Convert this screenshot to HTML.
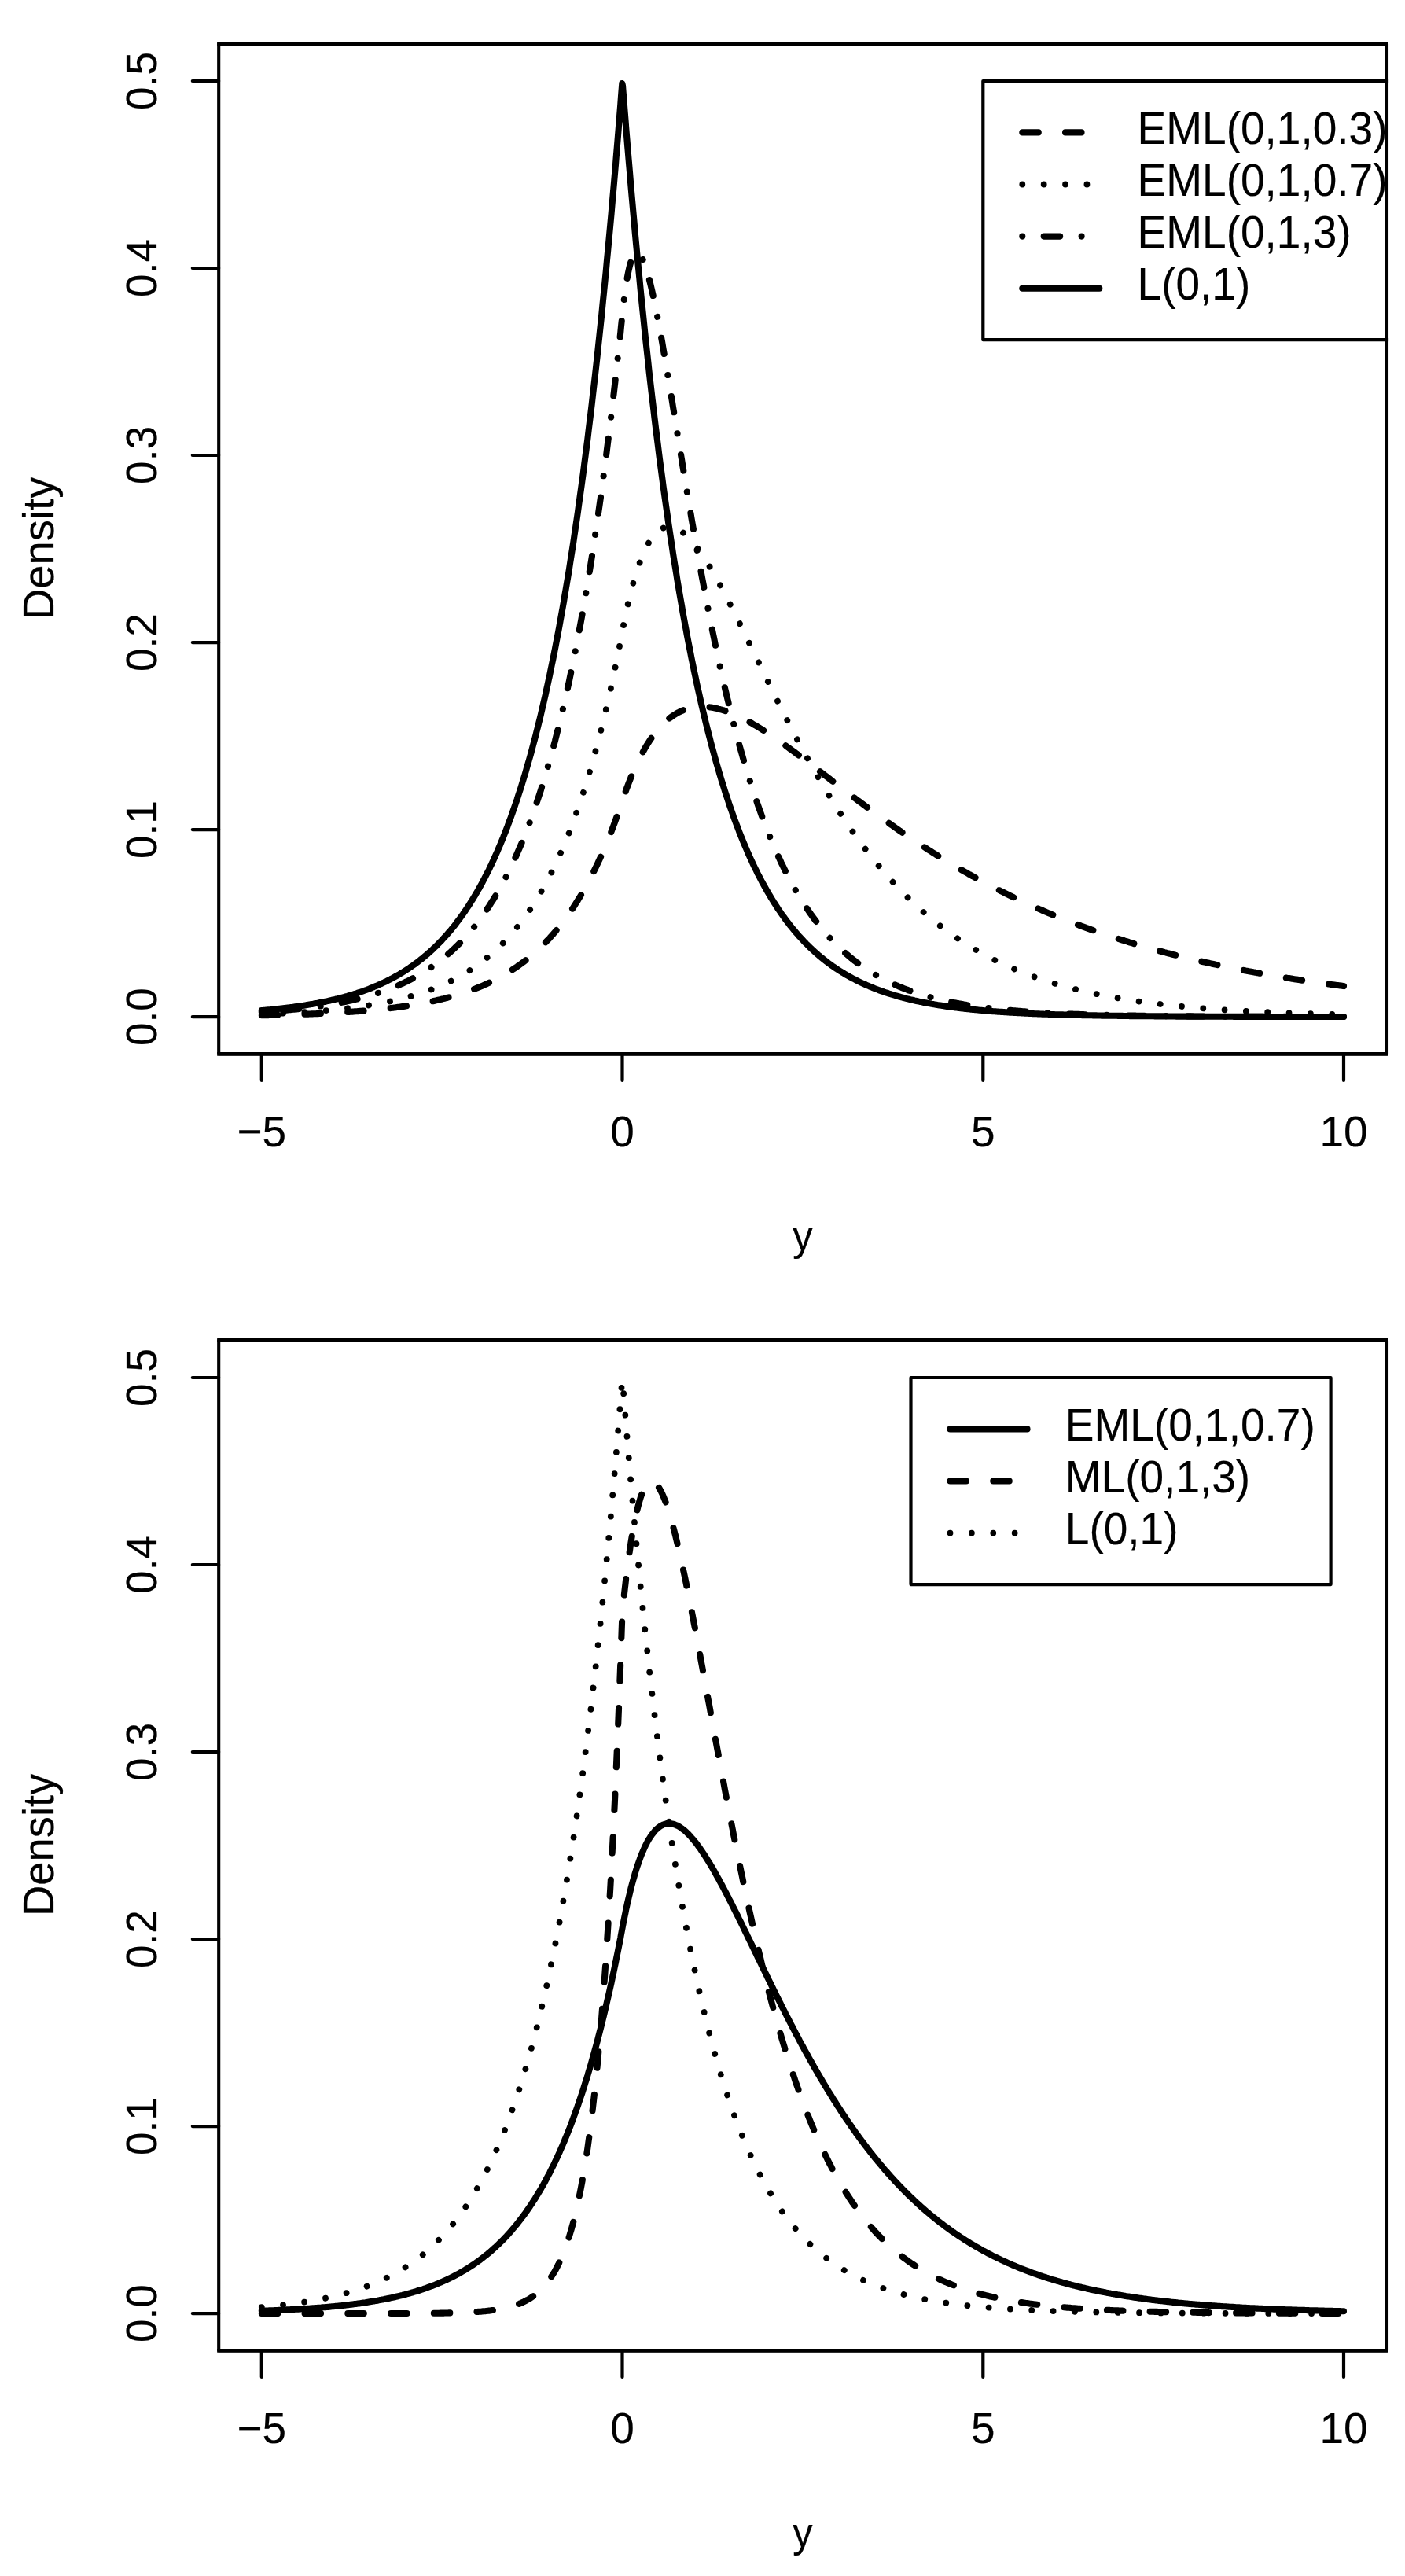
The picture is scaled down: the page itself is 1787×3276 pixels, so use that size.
<!DOCTYPE html>
<html><head><meta charset="utf-8"><title>Density plots</title>
<style>html,body{margin:0;padding:0;background:#fff}svg{display:block}text{stroke:#000;stroke-width:0.2px;font-family:"Liberation Sans",sans-serif;font-size:55px;fill:#000}</style></head><body>
<svg width="1787" height="3276" viewBox="0 0 1787 3276">
<rect width="1787" height="3276" fill="#fff"/>
<defs><clipPath id="c0"><rect x="278.2" y="55.4" width="1487.9" height="1284.8"/></clipPath><clipPath id="c1"><rect x="278.2" y="1704.4" width="1487.9" height="1284.8"/></clipPath></defs>
<g fill="none" stroke="#000" stroke-linecap="round" stroke-linejoin="round">
<g clip-path="url(#c0)">
<path d="M332.8,1291.2 L334.2,1291.2 L335.6,1291.2 L336.9,1291.2 L338.3,1291.1 L339.7,1291.1 L341.1,1291.1 L342.4,1291.0 L343.8,1291.0 L345.2,1291.0 L346.6,1290.9 L347.9,1290.9 L349.3,1290.9 L350.7,1290.9 L352.1,1290.8 L353.5,1290.8 L354.8,1290.7 L356.2,1290.7 L357.6,1290.7 L359.0,1290.6 L360.3,1290.6 L361.7,1290.6 L363.1,1290.5 L364.5,1290.5 L365.8,1290.4 L367.2,1290.4 L368.6,1290.4 L370.0,1290.3 L371.4,1290.3 L372.7,1290.2 L374.1,1290.2 L375.5,1290.2 L376.9,1290.1 L378.2,1290.1 L379.6,1290.0 L381.0,1290.0 L382.4,1289.9 L383.7,1289.9 L385.1,1289.8 L386.5,1289.8 L387.9,1289.7 L389.3,1289.7 L390.6,1289.6 L392.0,1289.6 L393.4,1289.5 L394.8,1289.5 L396.1,1289.4 L397.5,1289.4 L398.9,1289.3 L400.3,1289.2 L401.6,1289.2 L403.0,1289.1 L404.4,1289.1 L405.8,1289.0 L407.2,1288.9 L408.5,1288.9 L409.9,1288.8 L411.3,1288.7 L412.7,1288.7 L414.0,1288.6 L415.4,1288.5 L416.8,1288.5 L418.2,1288.4 L419.5,1288.3 L420.9,1288.3 L422.3,1288.2 L423.7,1288.1 L425.1,1288.0 L426.4,1288.0 L427.8,1287.9 L429.2,1287.8 L430.6,1287.7 L431.9,1287.6 L433.3,1287.6 L434.7,1287.5 L436.1,1287.4 L437.4,1287.3 L438.8,1287.2 L440.2,1287.1 L441.6,1287.0 L443.0,1287.0 L444.3,1286.9 L445.7,1286.8 L447.1,1286.7 L448.5,1286.6 L449.8,1286.5 L451.2,1286.4 L452.6,1286.3 L454.0,1286.2 L455.3,1286.1 L456.7,1286.0 L458.1,1285.8 L459.5,1285.7 L460.9,1285.6 L462.2,1285.5 L463.6,1285.4 L465.0,1285.3 L466.4,1285.2 L467.7,1285.0 L469.1,1284.9 L470.5,1284.8 L471.9,1284.7 L473.2,1284.5 L474.6,1284.4 L476.0,1284.3 L477.4,1284.2 L478.8,1284.0 L480.1,1283.9 L481.5,1283.7 L482.9,1283.6 L484.3,1283.5 L485.6,1283.3 L487.0,1283.2 L488.4,1283.0 L489.8,1282.9 L491.1,1282.7 L492.5,1282.5 L493.9,1282.4 L495.3,1282.2 L496.7,1282.1 L498.0,1281.9 L499.4,1281.7 L500.8,1281.6 L502.2,1281.4 L503.5,1281.2 L504.9,1281.0 L506.3,1280.8 L507.7,1280.7 L509.0,1280.5 L510.4,1280.3 L511.8,1280.1 L513.2,1279.9 L514.6,1279.7 L515.9,1279.5 L517.3,1279.3 L518.7,1279.1 L520.1,1278.9 L521.4,1278.6 L522.8,1278.4 L524.2,1278.2 L525.6,1278.0 L526.9,1277.7 L528.3,1277.5 L529.7,1277.3 L531.1,1277.0 L532.5,1276.8 L533.8,1276.5 L535.2,1276.3 L536.6,1276.0 L538.0,1275.8 L539.3,1275.5 L540.7,1275.3 L542.1,1275.0 L543.5,1274.7 L544.8,1274.4 L546.2,1274.2 L547.6,1273.9 L549.0,1273.6 L550.4,1273.3 L551.7,1273.0 L553.1,1272.7 L554.5,1272.4 L555.9,1272.1 L557.2,1271.7 L558.6,1271.4 L560.0,1271.1 L561.4,1270.8 L562.7,1270.4 L564.1,1270.1 L565.5,1269.7 L566.9,1269.4 L568.3,1269.0 L569.6,1268.6 L571.0,1268.3 L572.4,1267.9 L573.8,1267.5 L575.1,1267.1 L576.5,1266.7 L577.9,1266.3 L579.3,1265.9 L580.6,1265.5 L582.0,1265.1 L583.4,1264.7 L584.8,1264.3 L586.2,1263.8 L587.5,1263.4 L588.9,1262.9 L590.3,1262.5 L591.7,1262.0 L593.0,1261.5 L594.4,1261.1 L595.8,1260.6 L597.2,1260.1 L598.5,1259.6 L599.9,1259.1 L601.3,1258.6 L602.7,1258.0 L604.1,1257.5 L605.4,1257.0 L606.8,1256.4 L608.2,1255.9 L609.6,1255.3 L610.9,1254.7 L612.3,1254.2 L613.7,1253.6 L615.1,1253.0 L616.4,1252.4 L617.8,1251.8 L619.2,1251.1 L620.6,1250.5 L622.0,1249.8 L623.3,1249.2 L624.7,1248.5 L626.1,1247.9 L627.5,1247.2 L628.8,1246.5 L630.2,1245.8 L631.6,1245.1 L633.0,1244.3 L634.3,1243.6 L635.7,1242.8 L637.1,1242.1 L638.5,1241.3 L639.9,1240.5 L641.2,1239.7 L642.6,1238.9 L644.0,1238.1 L645.4,1237.3 L646.7,1236.4 L648.1,1235.6 L649.5,1234.7 L650.9,1233.8 L652.2,1232.9 L653.6,1232.0 L655.0,1231.1 L656.4,1230.2 L657.8,1229.2 L659.1,1228.2 L660.5,1227.3 L661.9,1226.3 L663.3,1225.3 L664.6,1224.2 L666.0,1223.2 L667.4,1222.1 L668.8,1221.1 L670.1,1220.0 L671.5,1218.9 L672.9,1217.7 L674.3,1216.6 L675.7,1215.4 L677.0,1214.3 L678.4,1213.1 L679.8,1211.9 L681.2,1210.6 L682.5,1209.4 L683.9,1208.1 L685.3,1206.8 L686.7,1205.5 L688.1,1204.2 L689.4,1202.9 L690.8,1201.5 L692.2,1200.1 L693.6,1198.7 L694.9,1197.3 L696.3,1195.8 L697.7,1194.4 L699.1,1192.9 L700.4,1191.4 L701.8,1189.8 L703.2,1188.3 L704.6,1186.7 L706.0,1185.1 L707.3,1183.4 L708.7,1181.8 L710.1,1180.1 L711.5,1178.4 L712.8,1176.6 L714.2,1174.9 L715.6,1173.1 L717.0,1171.3 L718.3,1169.4 L719.7,1167.6 L721.1,1165.7 L722.5,1163.7 L723.9,1161.8 L725.2,1159.8 L726.6,1157.8 L728.0,1155.7 L729.4,1153.7 L730.7,1151.6 L732.1,1149.4 L733.5,1147.2 L734.9,1145.0 L736.2,1142.8 L737.6,1140.5 L739.0,1138.2 L740.4,1135.9 L741.8,1133.5 L743.1,1131.1 L744.5,1128.6 L745.9,1126.1 L747.3,1123.6 L748.6,1121.1 L750.0,1118.5 L751.4,1115.8 L752.8,1113.1 L754.1,1110.4 L755.5,1107.7 L756.9,1104.9 L758.3,1102.0 L759.7,1099.1 L761.0,1096.2 L762.4,1093.2 L763.8,1090.2 L765.2,1087.1 L766.5,1084.0 L767.9,1080.8 L769.3,1077.6 L770.7,1074.4 L772.0,1071.1 L773.4,1067.7 L774.8,1064.3 L776.2,1060.8 L777.6,1057.3 L778.9,1053.8 L780.3,1050.1 L781.7,1046.5 L783.1,1042.7 L783.7,1040.9 L784.4,1039.0 L785.1,1037.0 L785.8,1035.1 L786.5,1033.2 L787.2,1031.2 L787.9,1029.2 L788.6,1027.2 L789.3,1025.2 L789.9,1023.2 L790.6,1021.2 L791.3,1019.1 L792.0,1017.1 L792.7,1015.1 L793.4,1013.1 L794.1,1011.1 L794.8,1009.1 L795.5,1007.2 L796.1,1005.3 L796.8,1003.4 L797.5,1001.5 L798.2,999.7 L798.9,997.8 L799.6,996.0 L800.3,994.3 L801.0,992.5 L802.3,989.1 L803.7,985.7 L805.1,982.5 L806.5,979.3 L807.8,976.2 L809.2,973.2 L810.6,970.2 L812.0,967.4 L813.4,964.6 L814.7,961.9 L816.1,959.2 L817.5,956.7 L818.9,954.2 L820.2,951.8 L821.6,949.4 L823.0,947.1 L824.4,944.9 L825.7,942.8 L827.1,940.7 L828.5,938.7 L829.9,936.7 L831.3,934.8 L832.6,933.0 L834.0,931.2 L835.4,929.5 L836.8,927.9 L838.1,926.3 L839.5,924.7 L840.9,923.2 L842.3,921.8 L843.6,920.4 L845.0,919.1 L846.4,917.8 L847.8,916.5 L849.2,915.4 L850.5,914.2 L851.9,913.1 L853.3,912.1 L854.7,911.1 L856.0,910.2 L857.4,909.2 L858.8,908.4 L860.2,907.6 L861.5,906.8 L862.9,906.0 L864.3,905.3 L865.7,904.7 L867.1,904.1 L868.4,903.5 L869.8,902.9 L871.2,902.4 L872.6,902.0 L873.9,901.5 L875.3,901.1 L876.7,900.7 L878.1,900.4 L879.4,900.1 L880.8,899.8 L882.2,899.6 L883.6,899.4 L885.0,899.2 L886.3,899.1 L887.7,898.9 L889.1,898.9 L890.5,898.8 L891.8,898.8 L893.2,898.8 L894.6,898.8 L896.0,898.8 L897.3,898.9 L898.7,899.0 L900.1,899.1 L901.5,899.2 L902.9,899.4 L904.2,899.6 L905.6,899.8 L907.0,900.1 L908.4,900.3 L909.7,900.6 L911.1,900.9 L912.5,901.2 L913.9,901.6 L915.2,901.9 L916.6,902.3 L918.0,902.7 L919.4,903.1 L920.8,903.5 L922.1,904.0 L923.5,904.5 L924.9,905.0 L926.3,905.5 L927.6,906.0 L929.0,906.5 L930.4,907.1 L931.8,907.6 L933.1,908.2 L934.5,908.8 L935.9,909.4 L937.3,910.0 L938.7,910.7 L940.0,911.3 L941.4,912.0 L942.8,912.7 L944.2,913.3 L945.5,914.0 L946.9,914.8 L948.3,915.5 L949.7,916.2 L951.0,917.0 L952.4,917.7 L953.8,918.5 L955.2,919.3 L956.6,920.1 L957.9,920.9 L959.3,921.7 L960.7,922.5 L962.1,923.3 L963.4,924.1 L964.8,925.0 L966.2,925.8 L967.6,926.7 L968.9,927.6 L970.3,928.4 L971.7,929.3 L973.1,930.2 L974.5,931.1 L975.8,932.0 L977.2,932.9 L978.6,933.8 L980.0,934.7 L981.3,935.7 L982.7,936.6 L984.1,937.6 L985.5,938.5 L986.8,939.5 L988.2,940.4 L989.6,941.4 L991.0,942.3 L992.4,943.3 L993.7,944.3 L995.1,945.3 L996.5,946.3 L997.9,947.2 L999.2,948.2 L1000.6,949.2 L1002.0,950.2 L1003.4,951.2 L1004.7,952.2 L1006.1,953.3 L1007.5,954.3 L1008.9,955.3 L1010.3,956.3 L1011.6,957.3 L1013.0,958.4 L1014.4,959.4 L1015.8,960.4 L1017.1,961.5 L1018.5,962.5 L1019.9,963.5 L1021.3,964.6 L1022.6,965.6 L1024.0,966.7 L1025.4,967.7 L1026.8,968.7 L1028.2,969.8 L1029.5,970.8 L1030.9,971.9 L1032.3,972.9 L1033.7,974.0 L1035.0,975.1 L1036.4,976.1 L1037.8,977.2 L1039.2,978.2 L1040.5,979.3 L1041.9,980.3 L1043.3,981.4 L1044.7,982.5 L1046.1,983.5 L1047.4,984.6 L1048.8,985.6 L1050.2,986.7 L1051.6,987.8 L1052.9,988.8 L1054.3,989.9 L1055.7,990.9 L1057.1,992.0 L1058.4,993.1 L1059.8,994.1 L1061.2,995.2 L1062.6,996.2 L1064.0,997.3 L1065.3,998.3 L1066.7,999.4 L1068.1,1000.5 L1069.5,1001.5 L1070.8,1002.6 L1072.2,1003.6 L1073.6,1004.7 L1075.0,1005.7 L1076.3,1006.8 L1077.7,1007.8 L1079.1,1008.9 L1080.5,1009.9 L1081.9,1010.9 L1083.2,1012.0 L1084.6,1013.0 L1086.0,1014.1 L1087.4,1015.1 L1088.7,1016.1 L1090.1,1017.2 L1091.5,1018.2 L1092.9,1019.3 L1094.2,1020.3 L1095.6,1021.3 L1097.0,1022.3 L1098.4,1023.4 L1099.8,1024.4 L1101.1,1025.4 L1102.5,1026.4 L1103.9,1027.5 L1105.3,1028.5 L1106.6,1029.5 L1108.0,1030.5 L1109.4,1031.5 L1110.8,1032.5 L1112.1,1033.5 L1113.5,1034.5 L1114.9,1035.5 L1116.3,1036.5 L1117.7,1037.5 L1119.0,1038.5 L1120.4,1039.5 L1121.8,1040.5 L1123.2,1041.5 L1124.5,1042.5 L1125.9,1043.5 L1127.3,1044.5 L1128.7,1045.4 L1130.0,1046.4 L1131.4,1047.4 L1132.8,1048.4 L1134.2,1049.3 L1135.6,1050.3 L1136.9,1051.3 L1138.3,1052.2 L1139.7,1053.2 L1141.1,1054.2 L1142.4,1055.1 L1143.8,1056.1 L1145.2,1057.0 L1146.6,1058.0 L1147.9,1058.9 L1149.3,1059.9 L1150.7,1060.8 L1152.1,1061.7 L1153.5,1062.7 L1154.8,1063.6 L1156.2,1064.5 L1157.6,1065.5 L1159.0,1066.4 L1160.3,1067.3 L1161.7,1068.2 L1163.1,1069.1 L1164.5,1070.0 L1165.8,1071.0 L1167.2,1071.9 L1168.6,1072.8 L1170.0,1073.7 L1171.4,1074.6 L1172.7,1075.5 L1174.1,1076.4 L1175.5,1077.3 L1176.9,1078.1 L1178.2,1079.0 L1179.6,1079.9 L1181.0,1080.8 L1182.4,1081.7 L1183.7,1082.5 L1185.1,1083.4 L1186.5,1084.3 L1187.9,1085.2 L1189.3,1086.0 L1190.6,1086.9 L1192.0,1087.7 L1193.4,1088.6 L1194.8,1089.4 L1196.1,1090.3 L1197.5,1091.1 L1198.9,1092.0 L1200.3,1092.8 L1201.6,1093.7 L1203.0,1094.5 L1204.4,1095.3 L1205.8,1096.2 L1207.2,1097.0 L1208.5,1097.8 L1209.9,1098.6 L1211.3,1099.4 L1212.7,1100.3 L1214.0,1101.1 L1215.4,1101.9 L1216.8,1102.7 L1218.2,1103.5 L1219.5,1104.3 L1220.9,1105.1 L1222.3,1105.9 L1223.7,1106.7 L1225.1,1107.5 L1226.4,1108.3 L1227.8,1109.0 L1229.2,1109.8 L1230.6,1110.6 L1231.9,1111.4 L1233.3,1112.2 L1234.7,1112.9 L1236.1,1113.7 L1237.4,1114.5 L1238.8,1115.2 L1240.2,1116.0 L1241.6,1116.7 L1243.0,1117.5 L1244.3,1118.2 L1245.7,1119.0 L1247.1,1119.7 L1248.5,1120.5 L1249.8,1121.2 L1251.2,1121.9 L1252.6,1122.7 L1254.0,1123.4 L1255.3,1124.1 L1256.7,1124.9 L1258.1,1125.6 L1259.5,1126.3 L1260.9,1127.0 L1262.2,1127.7 L1263.6,1128.4 L1265.0,1129.2 L1266.4,1129.9 L1267.7,1130.6 L1269.1,1131.3 L1270.5,1132.0 L1271.9,1132.7 L1273.2,1133.3 L1274.6,1134.0 L1276.0,1134.7 L1277.4,1135.4 L1278.8,1136.1 L1280.1,1136.8 L1281.5,1137.4 L1282.9,1138.1 L1284.3,1138.8 L1285.6,1139.5 L1287.0,1140.1 L1288.4,1140.8 L1289.8,1141.4 L1291.1,1142.1 L1292.5,1142.8 L1293.9,1143.4 L1295.3,1144.1 L1296.7,1144.7 L1298.0,1145.4 L1299.4,1146.0 L1300.8,1146.6 L1302.2,1147.3 L1303.5,1147.9 L1304.9,1148.5 L1306.3,1149.2 L1307.7,1149.8 L1309.0,1150.4 L1310.4,1151.0 L1311.8,1151.7 L1313.2,1152.3 L1314.6,1152.9 L1315.9,1153.5 L1317.3,1154.1 L1318.7,1154.7 L1320.1,1155.3 L1321.4,1155.9 L1322.8,1156.5 L1324.2,1157.1 L1325.6,1157.7 L1326.9,1158.3 L1328.3,1158.9 L1329.7,1159.5 L1331.1,1160.1 L1332.5,1160.7 L1333.8,1161.2 L1335.2,1161.8 L1336.6,1162.4 L1338.0,1163.0 L1339.3,1163.5 L1340.7,1164.1 L1342.1,1164.7 L1343.5,1165.2 L1344.8,1165.8 L1346.2,1166.4 L1347.6,1166.9 L1349.0,1167.5 L1350.4,1168.0 L1351.7,1168.6 L1353.1,1169.1 L1354.5,1169.7 L1355.9,1170.2 L1357.2,1170.8 L1358.6,1171.3 L1360.0,1171.8 L1361.4,1172.4 L1362.7,1172.9 L1364.1,1173.4 L1365.5,1173.9 L1366.9,1174.5 L1368.3,1175.0 L1369.6,1175.5 L1371.0,1176.0 L1372.4,1176.6 L1373.8,1177.1 L1375.1,1177.6 L1376.5,1178.1 L1377.9,1178.6 L1379.3,1179.1 L1380.7,1179.6 L1382.0,1180.1 L1383.4,1180.6 L1384.8,1181.1 L1386.2,1181.6 L1387.5,1182.1 L1388.9,1182.6 L1390.3,1183.1 L1391.7,1183.6 L1393.0,1184.0 L1394.4,1184.5 L1395.8,1185.0 L1397.2,1185.5 L1398.6,1186.0 L1399.9,1186.4 L1401.3,1186.9 L1402.7,1187.4 L1404.1,1187.8 L1405.4,1188.3 L1406.8,1188.8 L1408.2,1189.2 L1409.6,1189.7 L1410.9,1190.2 L1412.3,1190.6 L1413.7,1191.1 L1415.1,1191.5 L1416.5,1192.0 L1417.8,1192.4 L1419.2,1192.9 L1420.6,1193.3 L1422.0,1193.7 L1423.3,1194.2 L1424.7,1194.6 L1426.1,1195.1 L1427.5,1195.5 L1428.8,1195.9 L1430.2,1196.4 L1431.6,1196.8 L1433.0,1197.2 L1434.4,1197.6 L1435.7,1198.1 L1437.1,1198.5 L1438.5,1198.9 L1439.9,1199.3 L1441.2,1199.7 L1442.6,1200.2 L1444.0,1200.6 L1445.4,1201.0 L1446.7,1201.4 L1448.1,1201.8 L1449.5,1202.2 L1450.9,1202.6 L1452.3,1203.0 L1453.6,1203.4 L1455.0,1203.8 L1456.4,1204.2 L1457.8,1204.6 L1459.1,1205.0 L1460.5,1205.4 L1461.9,1205.8 L1463.3,1206.2 L1464.6,1206.6 L1466.0,1206.9 L1467.4,1207.3 L1468.8,1207.7 L1470.2,1208.1 L1471.5,1208.5 L1472.9,1208.8 L1474.3,1209.2 L1475.7,1209.6 L1477.0,1210.0 L1478.4,1210.3 L1479.8,1210.7 L1481.2,1211.1 L1482.5,1211.4 L1483.9,1211.8 L1485.3,1212.2 L1486.7,1212.5 L1488.1,1212.9 L1489.4,1213.2 L1490.8,1213.6 L1492.2,1214.0 L1493.6,1214.3 L1494.9,1214.7 L1496.3,1215.0 L1497.7,1215.4 L1499.1,1215.7 L1500.4,1216.1 L1501.8,1216.4 L1503.2,1216.7 L1504.6,1217.1 L1506.0,1217.4 L1507.3,1217.8 L1508.7,1218.1 L1510.1,1218.4 L1511.5,1218.8 L1512.8,1219.1 L1514.2,1219.4 L1515.6,1219.7 L1517.0,1220.1 L1518.3,1220.4 L1519.7,1220.7 L1521.1,1221.1 L1522.5,1221.4 L1523.9,1221.7 L1525.2,1222.0 L1526.6,1222.3 L1528.0,1222.6 L1529.4,1223.0 L1530.7,1223.3 L1532.1,1223.6 L1533.5,1223.9 L1534.9,1224.2 L1536.2,1224.5 L1537.6,1224.8 L1539.0,1225.1 L1540.4,1225.4 L1541.8,1225.7 L1543.1,1226.0 L1544.5,1226.3 L1545.9,1226.6 L1547.3,1226.9 L1548.6,1227.2 L1550.0,1227.5 L1551.4,1227.8 L1552.8,1228.1 L1554.1,1228.4 L1555.5,1228.7 L1556.9,1229.0 L1558.3,1229.3 L1559.7,1229.5 L1561.0,1229.8 L1562.4,1230.1 L1563.8,1230.4 L1565.2,1230.7 L1566.5,1231.0 L1567.9,1231.2 L1569.3,1231.5 L1570.7,1231.8 L1572.0,1232.1 L1573.4,1232.3 L1574.8,1232.6 L1576.2,1232.9 L1577.6,1233.1 L1578.9,1233.4 L1580.3,1233.7 L1581.7,1233.9 L1583.1,1234.2 L1584.4,1234.5 L1585.8,1234.7 L1587.2,1235.0 L1588.6,1235.3 L1589.9,1235.5 L1591.3,1235.8 L1592.7,1236.0 L1594.1,1236.3 L1595.5,1236.5 L1596.8,1236.8 L1598.2,1237.0 L1599.6,1237.3 L1601.0,1237.5 L1602.3,1237.8 L1603.7,1238.0 L1605.1,1238.3 L1606.5,1238.5 L1607.8,1238.8 L1609.2,1239.0 L1610.6,1239.3 L1612.0,1239.5 L1613.4,1239.7 L1614.7,1240.0 L1616.1,1240.2 L1617.5,1240.5 L1618.9,1240.7 L1620.2,1240.9 L1621.6,1241.2 L1623.0,1241.4 L1624.4,1241.6 L1625.7,1241.9 L1627.1,1242.1 L1628.5,1242.3 L1629.9,1242.5 L1631.3,1242.8 L1632.6,1243.0 L1634.0,1243.2 L1635.4,1243.4 L1636.8,1243.7 L1638.1,1243.9 L1639.5,1244.1 L1640.9,1244.3 L1642.3,1244.5 L1643.6,1244.8 L1645.0,1245.0 L1646.4,1245.2 L1647.8,1245.4 L1649.2,1245.6 L1650.5,1245.8 L1651.9,1246.1 L1653.3,1246.3 L1654.7,1246.5 L1656.0,1246.7 L1657.4,1246.9 L1658.8,1247.1 L1660.2,1247.3 L1661.5,1247.5 L1662.9,1247.7 L1664.3,1247.9 L1665.7,1248.1 L1667.1,1248.3 L1668.4,1248.5 L1669.8,1248.7 L1671.2,1248.9 L1672.6,1249.1 L1673.9,1249.3 L1675.3,1249.5 L1676.7,1249.7 L1678.1,1249.9 L1679.4,1250.1 L1680.8,1250.3 L1682.2,1250.5 L1683.6,1250.7 L1685.0,1250.9 L1686.3,1251.0 L1687.7,1251.2 L1689.1,1251.4 L1690.5,1251.6 L1691.8,1251.8 L1693.2,1252.0 L1694.6,1252.2 L1696.0,1252.4 L1697.3,1252.5 L1698.7,1252.7 L1700.1,1252.9 L1701.5,1253.1 L1702.9,1253.3 L1704.2,1253.4 L1705.6,1253.6 L1707.0,1253.8 L1708.4,1254.0 L1709.0,1254.1" stroke-width="8.1" stroke-dasharray="20.48 34.28"/>
<path d="M332.8,1289.8 L334.2,1289.7 L335.6,1289.7 L336.9,1289.6 L338.3,1289.6 L339.7,1289.5 L341.1,1289.5 L342.4,1289.4 L343.8,1289.4 L345.2,1289.3 L346.6,1289.3 L347.9,1289.2 L349.3,1289.1 L350.7,1289.1 L352.1,1289.0 L353.5,1289.0 L354.8,1288.9 L356.2,1288.8 L357.6,1288.8 L359.0,1288.7 L360.3,1288.6 L361.7,1288.6 L363.1,1288.5 L364.5,1288.4 L365.8,1288.4 L367.2,1288.3 L368.6,1288.2 L370.0,1288.1 L371.4,1288.1 L372.7,1288.0 L374.1,1287.9 L375.5,1287.8 L376.9,1287.8 L378.2,1287.7 L379.6,1287.6 L381.0,1287.5 L382.4,1287.4 L383.7,1287.3 L385.1,1287.3 L386.5,1287.2 L387.9,1287.1 L389.3,1287.0 L390.6,1286.9 L392.0,1286.8 L393.4,1286.7 L394.8,1286.6 L396.1,1286.5 L397.5,1286.4 L398.9,1286.3 L400.3,1286.2 L401.6,1286.1 L403.0,1286.0 L404.4,1285.9 L405.8,1285.8 L407.2,1285.7 L408.5,1285.6 L409.9,1285.4 L411.3,1285.3 L412.7,1285.2 L414.0,1285.1 L415.4,1285.0 L416.8,1284.9 L418.2,1284.7 L419.5,1284.6 L420.9,1284.5 L422.3,1284.3 L423.7,1284.2 L425.1,1284.1 L426.4,1283.9 L427.8,1283.8 L429.2,1283.7 L430.6,1283.5 L431.9,1283.4 L433.3,1283.2 L434.7,1283.1 L436.1,1282.9 L437.4,1282.8 L438.8,1282.6 L440.2,1282.5 L441.6,1282.3 L443.0,1282.1 L444.3,1282.0 L445.7,1281.8 L447.1,1281.6 L448.5,1281.5 L449.8,1281.3 L451.2,1281.1 L452.6,1280.9 L454.0,1280.7 L455.3,1280.5 L456.7,1280.4 L458.1,1280.2 L459.5,1280.0 L460.9,1279.8 L462.2,1279.6 L463.6,1279.4 L465.0,1279.2 L466.4,1278.9 L467.7,1278.7 L469.1,1278.5 L470.5,1278.3 L471.9,1278.1 L473.2,1277.8 L474.6,1277.6 L476.0,1277.4 L477.4,1277.1 L478.8,1276.9 L480.1,1276.7 L481.5,1276.4 L482.9,1276.1 L484.3,1275.9 L485.6,1275.6 L487.0,1275.4 L488.4,1275.1 L489.8,1274.8 L491.1,1274.6 L492.5,1274.3 L493.9,1274.0 L495.3,1273.7 L496.7,1273.4 L498.0,1273.1 L499.4,1272.8 L500.8,1272.5 L502.2,1272.2 L503.5,1271.9 L504.9,1271.5 L506.3,1271.2 L507.7,1270.9 L509.0,1270.6 L510.4,1270.2 L511.8,1269.9 L513.2,1269.5 L514.6,1269.2 L515.9,1268.8 L517.3,1268.4 L518.7,1268.1 L520.1,1267.7 L521.4,1267.3 L522.8,1266.9 L524.2,1266.5 L525.6,1266.1 L526.9,1265.7 L528.3,1265.3 L529.7,1264.9 L531.1,1264.4 L532.5,1264.0 L533.8,1263.6 L535.2,1263.1 L536.6,1262.7 L538.0,1262.2 L539.3,1261.7 L540.7,1261.3 L542.1,1260.8 L543.5,1260.3 L544.8,1259.8 L546.2,1259.3 L547.6,1258.8 L549.0,1258.3 L550.4,1257.7 L551.7,1257.2 L553.1,1256.7 L554.5,1256.1 L555.9,1255.5 L557.2,1255.0 L558.6,1254.4 L560.0,1253.8 L561.4,1253.2 L562.7,1252.6 L564.1,1252.0 L565.5,1251.4 L566.9,1250.8 L568.3,1250.1 L569.6,1249.5 L571.0,1248.8 L572.4,1248.1 L573.8,1247.5 L575.1,1246.8 L576.5,1246.1 L577.9,1245.4 L579.3,1244.6 L580.6,1243.9 L582.0,1243.2 L583.4,1242.4 L584.8,1241.6 L586.2,1240.9 L587.5,1240.1 L588.9,1239.3 L590.3,1238.5 L591.7,1237.6 L593.0,1236.8 L594.4,1235.9 L595.8,1235.1 L597.2,1234.2 L598.5,1233.3 L599.9,1232.4 L601.3,1231.5 L602.7,1230.6 L604.1,1229.6 L605.4,1228.6 L606.8,1227.7 L608.2,1226.7 L609.6,1225.7 L610.9,1224.7 L612.3,1223.6 L613.7,1222.6 L615.1,1221.5 L616.4,1220.4 L617.8,1219.3 L619.2,1218.2 L620.6,1217.1 L622.0,1215.9 L623.3,1214.8 L624.7,1213.6 L626.1,1212.4 L627.5,1211.2 L628.8,1209.9 L630.2,1208.7 L631.6,1207.4 L633.0,1206.1 L634.3,1204.8 L635.7,1203.4 L637.1,1202.1 L638.5,1200.7 L639.9,1199.3 L641.2,1197.9 L642.6,1196.4 L644.0,1195.0 L645.4,1193.5 L646.7,1192.0 L648.1,1190.5 L649.5,1188.9 L650.9,1187.3 L652.2,1185.7 L653.6,1184.1 L655.0,1182.5 L656.4,1180.8 L657.8,1179.1 L659.1,1177.4 L660.5,1175.6 L661.9,1173.8 L663.3,1172.0 L664.6,1170.2 L666.0,1168.4 L667.4,1166.5 L668.8,1164.5 L670.1,1162.6 L671.5,1160.6 L672.9,1158.6 L674.3,1156.6 L675.7,1154.5 L677.0,1152.4 L678.4,1150.3 L679.8,1148.2 L681.2,1146.0 L682.5,1143.7 L683.9,1141.5 L685.3,1139.2 L686.7,1136.9 L688.1,1134.5 L689.4,1132.1 L690.8,1129.7 L692.2,1127.2 L693.6,1124.7 L694.9,1122.1 L696.3,1119.5 L697.7,1116.9 L699.1,1114.3 L700.4,1111.6 L701.8,1108.8 L703.2,1106.0 L704.6,1103.2 L706.0,1100.3 L707.3,1097.4 L708.7,1094.5 L710.1,1091.4 L711.5,1088.4 L712.8,1085.3 L714.2,1082.2 L715.6,1079.0 L717.0,1075.7 L718.3,1072.4 L719.7,1069.1 L721.1,1065.7 L722.5,1062.3 L723.9,1058.8 L725.2,1055.3 L726.6,1051.7 L728.0,1048.0 L729.4,1044.3 L730.7,1040.5 L732.1,1036.7 L733.5,1032.8 L734.9,1028.9 L736.2,1024.9 L737.6,1020.9 L739.0,1016.7 L740.4,1012.6 L741.8,1008.3 L743.1,1004.0 L744.5,999.6 L745.9,995.2 L747.3,990.7 L748.6,986.1 L750.0,981.5 L751.4,976.8 L752.8,972.0 L754.1,967.1 L755.5,962.2 L756.9,957.2 L758.3,952.1 L759.7,947.0 L761.0,941.7 L762.4,936.4 L763.8,931.0 L765.2,925.6 L766.5,920.0 L767.9,914.4 L769.3,908.6 L770.7,902.8 L772.0,896.9 L773.4,890.9 L774.8,884.8 L776.2,878.7 L777.6,872.4 L778.9,866.0 L780.3,859.6 L781.7,853.0 L783.1,846.4 L783.7,843.0 L784.4,839.6 L785.1,836.2 L785.8,832.8 L786.5,829.3 L787.2,825.8 L787.9,822.3 L788.6,818.7 L789.3,815.2 L789.9,811.6 L790.6,807.9 L791.3,804.3 L792.0,800.6 L792.7,797.0 L793.4,793.5 L794.1,790.0 L794.8,786.6 L795.5,783.3 L796.1,780.0 L796.8,776.8 L797.5,773.6 L798.2,770.5 L798.9,767.5 L799.6,764.5 L800.3,761.6 L801.0,758.7 L802.3,753.1 L803.7,747.8 L805.1,742.7 L806.5,737.8 L807.8,733.1 L809.2,728.6 L810.6,724.3 L812.0,720.3 L813.4,716.4 L814.7,712.7 L816.1,709.1 L817.5,705.8 L818.9,702.6 L820.2,699.6 L821.6,696.8 L823.0,694.1 L824.4,691.6 L825.7,689.3 L827.1,687.1 L828.5,685.1 L829.9,683.2 L831.3,681.4 L832.6,679.8 L834.0,678.3 L835.4,677.0 L836.8,675.7 L838.1,674.7 L839.5,673.7 L840.9,672.8 L842.3,672.1 L843.6,671.5 L845.0,671.0 L846.4,670.6 L847.8,670.3 L849.2,670.1 L850.5,670.1 L851.9,670.1 L853.3,670.2 L854.7,670.4 L856.0,670.7 L857.4,671.1 L858.8,671.6 L860.2,672.2 L861.5,672.8 L862.9,673.5 L864.3,674.3 L865.7,675.2 L867.1,676.2 L868.4,677.2 L869.8,678.3 L871.2,679.4 L872.6,680.7 L873.9,682.0 L875.3,683.3 L876.7,684.8 L878.1,686.2 L879.4,687.8 L880.8,689.4 L882.2,691.0 L883.6,692.7 L885.0,694.4 L886.3,696.2 L887.7,698.1 L889.1,700.0 L890.5,701.9 L891.8,703.9 L893.2,705.9 L894.6,708.0 L896.0,710.1 L897.3,712.2 L898.7,714.4 L900.1,716.6 L901.5,718.8 L902.9,721.1 L904.2,723.4 L905.6,725.7 L907.0,728.1 L908.4,730.5 L909.7,732.9 L911.1,735.4 L912.5,737.9 L913.9,740.4 L915.2,742.9 L916.6,745.4 L918.0,748.0 L919.4,750.6 L920.8,753.2 L922.1,755.8 L923.5,758.4 L924.9,761.1 L926.3,763.8 L927.6,766.5 L929.0,769.2 L930.4,771.9 L931.8,774.6 L933.1,777.4 L934.5,780.1 L935.9,782.9 L937.3,785.6 L938.7,788.4 L940.0,791.2 L941.4,794.0 L942.8,796.8 L944.2,799.6 L945.5,802.4 L946.9,805.3 L948.3,808.1 L949.7,810.9 L951.0,813.8 L952.4,816.6 L953.8,819.4 L955.2,822.3 L956.6,825.1 L957.9,828.0 L959.3,830.8 L960.7,833.7 L962.1,836.5 L963.4,839.4 L964.8,842.2 L966.2,845.1 L967.6,847.9 L968.9,850.7 L970.3,853.6 L971.7,856.4 L973.1,859.2 L974.5,862.1 L975.8,864.9 L977.2,867.7 L978.6,870.5 L980.0,873.3 L981.3,876.1 L982.7,878.9 L984.1,881.7 L985.5,884.5 L986.8,887.3 L988.2,890.1 L989.6,892.8 L991.0,895.6 L992.4,898.3 L993.7,901.1 L995.1,903.8 L996.5,906.5 L997.9,909.3 L999.2,912.0 L1000.6,914.7 L1002.0,917.4 L1003.4,920.0 L1004.7,922.7 L1006.1,925.4 L1007.5,928.0 L1008.9,930.7 L1010.3,933.3 L1011.6,935.9 L1013.0,938.5 L1014.4,941.1 L1015.8,943.7 L1017.1,946.3 L1018.5,948.9 L1019.9,951.4 L1021.3,954.0 L1022.6,956.5 L1024.0,959.0 L1025.4,961.5 L1026.8,964.0 L1028.2,966.5 L1029.5,969.0 L1030.9,971.5 L1032.3,973.9 L1033.7,976.4 L1035.0,978.8 L1036.4,981.2 L1037.8,983.6 L1039.2,986.0 L1040.5,988.4 L1041.9,990.7 L1043.3,993.1 L1044.7,995.4 L1046.1,997.8 L1047.4,1000.1 L1048.8,1002.4 L1050.2,1004.7 L1051.6,1007.0 L1052.9,1009.2 L1054.3,1011.5 L1055.7,1013.7 L1057.1,1015.9 L1058.4,1018.1 L1059.8,1020.3 L1061.2,1022.5 L1062.6,1024.7 L1064.0,1026.9 L1065.3,1029.0 L1066.7,1031.2 L1068.1,1033.3 L1069.5,1035.4 L1070.8,1037.5 L1072.2,1039.6 L1073.6,1041.6 L1075.0,1043.7 L1076.3,1045.7 L1077.7,1047.8 L1079.1,1049.8 L1080.5,1051.8 L1081.9,1053.8 L1083.2,1055.8 L1084.6,1057.7 L1086.0,1059.7 L1087.4,1061.6 L1088.7,1063.6 L1090.1,1065.5 L1091.5,1067.4 L1092.9,1069.3 L1094.2,1071.1 L1095.6,1073.0 L1097.0,1074.8 L1098.4,1076.7 L1099.8,1078.5 L1101.1,1080.3 L1102.5,1082.1 L1103.9,1083.9 L1105.3,1085.7 L1106.6,1087.5 L1108.0,1089.2 L1109.4,1090.9 L1110.8,1092.7 L1112.1,1094.4 L1113.5,1096.1 L1114.9,1097.8 L1116.3,1099.5 L1117.7,1101.1 L1119.0,1102.8 L1120.4,1104.4 L1121.8,1106.0 L1123.2,1107.7 L1124.5,1109.3 L1125.9,1110.9 L1127.3,1112.4 L1128.7,1114.0 L1130.0,1115.6 L1131.4,1117.1 L1132.8,1118.7 L1134.2,1120.2 L1135.6,1121.7 L1136.9,1123.2 L1138.3,1124.7 L1139.7,1126.2 L1141.1,1127.6 L1142.4,1129.1 L1143.8,1130.5 L1145.2,1132.0 L1146.6,1133.4 L1147.9,1134.8 L1149.3,1136.2 L1150.7,1137.6 L1152.1,1139.0 L1153.5,1140.3 L1154.8,1141.7 L1156.2,1143.0 L1157.6,1144.4 L1159.0,1145.7 L1160.3,1147.0 L1161.7,1148.3 L1163.1,1149.6 L1164.5,1150.9 L1165.8,1152.2 L1167.2,1153.4 L1168.6,1154.7 L1170.0,1155.9 L1171.4,1157.2 L1172.7,1158.4 L1174.1,1159.6 L1175.5,1160.8 L1176.9,1162.0 L1178.2,1163.2 L1179.6,1164.4 L1181.0,1165.5 L1182.4,1166.7 L1183.7,1167.8 L1185.1,1169.0 L1186.5,1170.1 L1187.9,1171.2 L1189.3,1172.3 L1190.6,1173.4 L1192.0,1174.5 L1193.4,1175.6 L1194.8,1176.7 L1196.1,1177.7 L1197.5,1178.8 L1198.9,1179.8 L1200.3,1180.9 L1201.6,1181.9 L1203.0,1182.9 L1204.4,1183.9 L1205.8,1184.9 L1207.2,1185.9 L1208.5,1186.9 L1209.9,1187.9 L1211.3,1188.9 L1212.7,1189.8 L1214.0,1190.8 L1215.4,1191.7 L1216.8,1192.7 L1218.2,1193.6 L1219.5,1194.5 L1220.9,1195.4 L1222.3,1196.3 L1223.7,1197.2 L1225.1,1198.1 L1226.4,1199.0 L1227.8,1199.9 L1229.2,1200.8 L1230.6,1201.6 L1231.9,1202.5 L1233.3,1203.3 L1234.7,1204.2 L1236.1,1205.0 L1237.4,1205.8 L1238.8,1206.6 L1240.2,1207.4 L1241.6,1208.2 L1243.0,1209.0 L1244.3,1209.8 L1245.7,1210.6 L1247.1,1211.4 L1248.5,1212.1 L1249.8,1212.9 L1251.2,1213.7 L1252.6,1214.4 L1254.0,1215.1 L1255.3,1215.9 L1256.7,1216.6 L1258.1,1217.3 L1259.5,1218.0 L1260.9,1218.8 L1262.2,1219.5 L1263.6,1220.2 L1265.0,1220.8 L1266.4,1221.5 L1267.7,1222.2 L1269.1,1222.9 L1270.5,1223.5 L1271.9,1224.2 L1273.2,1224.9 L1274.6,1225.5 L1276.0,1226.2 L1277.4,1226.8 L1278.8,1227.4 L1280.1,1228.0 L1281.5,1228.7 L1282.9,1229.3 L1284.3,1229.9 L1285.6,1230.5 L1287.0,1231.1 L1288.4,1231.7 L1289.8,1232.3 L1291.1,1232.9 L1292.5,1233.4 L1293.9,1234.0 L1295.3,1234.6 L1296.7,1235.1 L1298.0,1235.7 L1299.4,1236.2 L1300.8,1236.8 L1302.2,1237.3 L1303.5,1237.9 L1304.9,1238.4 L1306.3,1238.9 L1307.7,1239.4 L1309.0,1239.9 L1310.4,1240.5 L1311.8,1241.0 L1313.2,1241.5 L1314.6,1242.0 L1315.9,1242.5 L1317.3,1242.9 L1318.7,1243.4 L1320.1,1243.9 L1321.4,1244.4 L1322.8,1244.9 L1324.2,1245.3 L1325.6,1245.8 L1326.9,1246.2 L1328.3,1246.7 L1329.7,1247.1 L1331.1,1247.6 L1332.5,1248.0 L1333.8,1248.5 L1335.2,1248.9 L1336.6,1249.3 L1338.0,1249.8 L1339.3,1250.2 L1340.7,1250.6 L1342.1,1251.0 L1343.5,1251.4 L1344.8,1251.8 L1346.2,1252.2 L1347.6,1252.6 L1349.0,1253.0 L1350.4,1253.4 L1351.7,1253.8 L1353.1,1254.2 L1354.5,1254.6 L1355.9,1254.9 L1357.2,1255.3 L1358.6,1255.7 L1360.0,1256.0 L1361.4,1256.4 L1362.7,1256.8 L1364.1,1257.1 L1365.5,1257.5 L1366.9,1257.8 L1368.3,1258.2 L1369.6,1258.5 L1371.0,1258.8 L1372.4,1259.2 L1373.8,1259.5 L1375.1,1259.8 L1376.5,1260.2 L1377.9,1260.5 L1379.3,1260.8 L1380.7,1261.1 L1382.0,1261.4 L1383.4,1261.8 L1384.8,1262.1 L1386.2,1262.4 L1387.5,1262.7 L1388.9,1263.0 L1390.3,1263.3 L1391.7,1263.6 L1393.0,1263.8 L1394.4,1264.1 L1395.8,1264.4 L1397.2,1264.7 L1398.6,1265.0 L1399.9,1265.3 L1401.3,1265.5 L1402.7,1265.8 L1404.1,1266.1 L1405.4,1266.3 L1406.8,1266.6 L1408.2,1266.9 L1409.6,1267.1 L1410.9,1267.4 L1412.3,1267.6 L1413.7,1267.9 L1415.1,1268.1 L1416.5,1268.4 L1417.8,1268.6 L1419.2,1268.9 L1420.6,1269.1 L1422.0,1269.4 L1423.3,1269.6 L1424.7,1269.8 L1426.1,1270.1 L1427.5,1270.3 L1428.8,1270.5 L1430.2,1270.7 L1431.6,1271.0 L1433.0,1271.2 L1434.4,1271.4 L1435.7,1271.6 L1437.1,1271.8 L1438.5,1272.0 L1439.9,1272.2 L1441.2,1272.4 L1442.6,1272.7 L1444.0,1272.9 L1445.4,1273.1 L1446.7,1273.3 L1448.1,1273.5 L1449.5,1273.7 L1450.9,1273.8 L1452.3,1274.0 L1453.6,1274.2 L1455.0,1274.4 L1456.4,1274.6 L1457.8,1274.8 L1459.1,1275.0 L1460.5,1275.2 L1461.9,1275.3 L1463.3,1275.5 L1464.6,1275.7 L1466.0,1275.9 L1467.4,1276.0 L1468.8,1276.2 L1470.2,1276.4 L1471.5,1276.5 L1472.9,1276.7 L1474.3,1276.9 L1475.7,1277.0 L1477.0,1277.2 L1478.4,1277.3 L1479.8,1277.5 L1481.2,1277.7 L1482.5,1277.8 L1483.9,1278.0 L1485.3,1278.1 L1486.7,1278.3 L1488.1,1278.4 L1489.4,1278.6 L1490.8,1278.7 L1492.2,1278.9 L1493.6,1279.0 L1494.9,1279.1 L1496.3,1279.3 L1497.7,1279.4 L1499.1,1279.6 L1500.4,1279.7 L1501.8,1279.8 L1503.2,1280.0 L1504.6,1280.1 L1506.0,1280.2 L1507.3,1280.4 L1508.7,1280.5 L1510.1,1280.6 L1511.5,1280.7 L1512.8,1280.9 L1514.2,1281.0 L1515.6,1281.1 L1517.0,1281.2 L1518.3,1281.3 L1519.7,1281.5 L1521.1,1281.6 L1522.5,1281.7 L1523.9,1281.8 L1525.2,1281.9 L1526.6,1282.0 L1528.0,1282.1 L1529.4,1282.3 L1530.7,1282.4 L1532.1,1282.5 L1533.5,1282.6 L1534.9,1282.7 L1536.2,1282.8 L1537.6,1282.9 L1539.0,1283.0 L1540.4,1283.1 L1541.8,1283.2 L1543.1,1283.3 L1544.5,1283.4 L1545.9,1283.5 L1547.3,1283.6 L1548.6,1283.7 L1550.0,1283.8 L1551.4,1283.9 L1552.8,1284.0 L1554.1,1284.1 L1555.5,1284.2 L1556.9,1284.3 L1558.3,1284.3 L1559.7,1284.4 L1561.0,1284.5 L1562.4,1284.6 L1563.8,1284.7 L1565.2,1284.8 L1566.5,1284.9 L1567.9,1284.9 L1569.3,1285.0 L1570.7,1285.1 L1572.0,1285.2 L1573.4,1285.3 L1574.8,1285.3 L1576.2,1285.4 L1577.6,1285.5 L1578.9,1285.6 L1580.3,1285.7 L1581.7,1285.7 L1583.1,1285.8 L1584.4,1285.9 L1585.8,1286.0 L1587.2,1286.0 L1588.6,1286.1 L1589.9,1286.2 L1591.3,1286.2 L1592.7,1286.3 L1594.1,1286.4 L1595.5,1286.4 L1596.8,1286.5 L1598.2,1286.6 L1599.6,1286.6 L1601.0,1286.7 L1602.3,1286.8 L1603.7,1286.8 L1605.1,1286.9 L1606.5,1287.0 L1607.8,1287.0 L1609.2,1287.1 L1610.6,1287.2 L1612.0,1287.2 L1613.4,1287.3 L1614.7,1287.3 L1616.1,1287.4 L1617.5,1287.5 L1618.9,1287.5 L1620.2,1287.6 L1621.6,1287.6 L1623.0,1287.7 L1624.4,1287.7 L1625.7,1287.8 L1627.1,1287.8 L1628.5,1287.9 L1629.9,1287.9 L1631.3,1288.0 L1632.6,1288.1 L1634.0,1288.1 L1635.4,1288.2 L1636.8,1288.2 L1638.1,1288.3 L1639.5,1288.3 L1640.9,1288.4 L1642.3,1288.4 L1643.6,1288.5 L1645.0,1288.5 L1646.4,1288.5 L1647.8,1288.6 L1649.2,1288.6 L1650.5,1288.7 L1651.9,1288.7 L1653.3,1288.8 L1654.7,1288.8 L1656.0,1288.9 L1657.4,1288.9 L1658.8,1288.9 L1660.2,1289.0 L1661.5,1289.0 L1662.9,1289.1 L1664.3,1289.1 L1665.7,1289.2 L1667.1,1289.2 L1668.4,1289.2 L1669.8,1289.3 L1671.2,1289.3 L1672.6,1289.4 L1673.9,1289.4 L1675.3,1289.4 L1676.7,1289.5 L1678.1,1289.5 L1679.4,1289.5 L1680.8,1289.6 L1682.2,1289.6 L1683.6,1289.6 L1685.0,1289.7 L1686.3,1289.7 L1687.7,1289.8 L1689.1,1289.8 L1690.5,1289.8 L1691.8,1289.9 L1693.2,1289.9 L1694.6,1289.9 L1696.0,1290.0 L1697.3,1290.0 L1698.7,1290.0 L1700.1,1290.0 L1701.5,1290.1 L1702.9,1290.1 L1704.2,1290.1 L1705.6,1290.2 L1707.0,1290.2 L1708.4,1290.2 L1709.0,1290.2" stroke-width="7.8" stroke-dasharray="0.01 27.37"/>
<path d="M332.8,1287.1 L334.2,1287.0 L335.6,1286.9 L336.9,1286.8 L338.3,1286.7 L339.7,1286.6 L341.1,1286.5 L342.4,1286.4 L343.8,1286.3 L345.2,1286.2 L346.6,1286.1 L347.9,1286.0 L349.3,1285.9 L350.7,1285.8 L352.1,1285.7 L353.5,1285.6 L354.8,1285.5 L356.2,1285.3 L357.6,1285.2 L359.0,1285.1 L360.3,1285.0 L361.7,1284.9 L363.1,1284.7 L364.5,1284.6 L365.8,1284.5 L367.2,1284.3 L368.6,1284.2 L370.0,1284.1 L371.4,1283.9 L372.7,1283.8 L374.1,1283.7 L375.5,1283.5 L376.9,1283.4 L378.2,1283.2 L379.6,1283.1 L381.0,1282.9 L382.4,1282.8 L383.7,1282.6 L385.1,1282.5 L386.5,1282.3 L387.9,1282.1 L389.3,1282.0 L390.6,1281.8 L392.0,1281.6 L393.4,1281.5 L394.8,1281.3 L396.1,1281.1 L397.5,1280.9 L398.9,1280.7 L400.3,1280.6 L401.6,1280.4 L403.0,1280.2 L404.4,1280.0 L405.8,1279.8 L407.2,1279.6 L408.5,1279.4 L409.9,1279.2 L411.3,1279.0 L412.7,1278.7 L414.0,1278.5 L415.4,1278.3 L416.8,1278.1 L418.2,1277.9 L419.5,1277.6 L420.9,1277.4 L422.3,1277.1 L423.7,1276.9 L425.1,1276.7 L426.4,1276.4 L427.8,1276.2 L429.2,1275.9 L430.6,1275.6 L431.9,1275.4 L433.3,1275.1 L434.7,1274.8 L436.1,1274.6 L437.4,1274.3 L438.8,1274.0 L440.2,1273.7 L441.6,1273.4 L443.0,1273.1 L444.3,1272.8 L445.7,1272.5 L447.1,1272.2 L448.5,1271.9 L449.8,1271.6 L451.2,1271.2 L452.6,1270.9 L454.0,1270.6 L455.3,1270.2 L456.7,1269.9 L458.1,1269.5 L459.5,1269.2 L460.9,1268.8 L462.2,1268.4 L463.6,1268.1 L465.0,1267.7 L466.4,1267.3 L467.7,1266.9 L469.1,1266.5 L470.5,1266.1 L471.9,1265.7 L473.2,1265.3 L474.6,1264.9 L476.0,1264.5 L477.4,1264.0 L478.8,1263.6 L480.1,1263.1 L481.5,1262.7 L482.9,1262.2 L484.3,1261.8 L485.6,1261.3 L487.0,1260.8 L488.4,1260.3 L489.8,1259.8 L491.1,1259.3 L492.5,1258.8 L493.9,1258.3 L495.3,1257.8 L496.7,1257.2 L498.0,1256.7 L499.4,1256.1 L500.8,1255.6 L502.2,1255.0 L503.5,1254.4 L504.9,1253.8 L506.3,1253.3 L507.7,1252.7 L509.0,1252.0 L510.4,1251.4 L511.8,1250.8 L513.2,1250.1 L514.6,1249.5 L515.9,1248.8 L517.3,1248.2 L518.7,1247.5 L520.1,1246.8 L521.4,1246.1 L522.8,1245.4 L524.2,1244.7 L525.6,1243.9 L526.9,1243.2 L528.3,1242.4 L529.7,1241.7 L531.1,1240.9 L532.5,1240.1 L533.8,1239.3 L535.2,1238.5 L536.6,1237.7 L538.0,1236.8 L539.3,1236.0 L540.7,1235.1 L542.1,1234.2 L543.5,1233.3 L544.8,1232.4 L546.2,1231.5 L547.6,1230.6 L549.0,1229.6 L550.4,1228.7 L551.7,1227.7 L553.1,1226.7 L554.5,1225.7 L555.9,1224.7 L557.2,1223.7 L558.6,1222.6 L560.0,1221.6 L561.4,1220.5 L562.7,1219.4 L564.1,1218.3 L565.5,1217.1 L566.9,1216.0 L568.3,1214.8 L569.6,1213.6 L571.0,1212.4 L572.4,1211.2 L573.8,1210.0 L575.1,1208.7 L576.5,1207.4 L577.9,1206.1 L579.3,1204.8 L580.6,1203.5 L582.0,1202.1 L583.4,1200.8 L584.8,1199.4 L586.2,1197.9 L587.5,1196.5 L588.9,1195.0 L590.3,1193.6 L591.7,1192.1 L593.0,1190.5 L594.4,1189.0 L595.8,1187.4 L597.2,1185.8 L598.5,1184.2 L599.9,1182.5 L601.3,1180.9 L602.7,1179.2 L604.1,1177.4 L605.4,1175.7 L606.8,1173.9 L608.2,1172.1 L609.6,1170.3 L610.9,1168.4 L612.3,1166.6 L613.7,1164.6 L615.1,1162.7 L616.4,1160.7 L617.8,1158.7 L619.2,1156.7 L620.6,1154.6 L622.0,1152.5 L623.3,1150.4 L624.7,1148.2 L626.1,1146.1 L627.5,1143.8 L628.8,1141.6 L630.2,1139.3 L631.6,1137.0 L633.0,1134.6 L634.3,1132.2 L635.7,1129.8 L637.1,1127.3 L638.5,1124.8 L639.9,1122.3 L641.2,1119.7 L642.6,1117.0 L644.0,1114.4 L645.4,1111.7 L646.7,1108.9 L648.1,1106.2 L649.5,1103.3 L650.9,1100.5 L652.2,1097.5 L653.6,1094.6 L655.0,1091.6 L656.4,1088.5 L657.8,1085.4 L659.1,1082.3 L660.5,1079.1 L661.9,1075.9 L663.3,1072.6 L664.6,1069.3 L666.0,1065.9 L667.4,1062.4 L668.8,1059.0 L670.1,1055.4 L671.5,1051.8 L672.9,1048.2 L674.3,1044.5 L675.7,1040.7 L677.0,1036.9 L678.4,1033.0 L679.8,1029.1 L681.2,1025.1 L682.5,1021.0 L683.9,1016.9 L685.3,1012.8 L686.7,1008.5 L688.1,1004.2 L689.4,999.8 L690.8,995.4 L692.2,990.9 L693.6,986.3 L694.9,981.7 L696.3,977.0 L697.7,972.2 L699.1,967.4 L700.4,962.4 L701.8,957.4 L703.2,952.4 L704.6,947.2 L706.0,942.0 L707.3,936.7 L708.7,931.3 L710.1,925.8 L711.5,920.3 L712.8,914.6 L714.2,908.9 L715.6,903.1 L717.0,897.2 L718.3,891.2 L719.7,885.1 L721.1,879.0 L722.5,872.7 L723.9,866.3 L725.2,859.9 L726.6,853.3 L728.0,846.7 L729.4,839.9 L730.7,833.1 L732.1,826.1 L733.5,819.1 L734.9,811.9 L736.2,804.6 L737.6,797.2 L739.0,789.7 L740.4,782.1 L741.8,774.4 L743.1,766.5 L744.5,758.6 L745.9,750.5 L747.3,742.3 L748.6,734.0 L750.0,725.5 L751.4,716.9 L752.8,708.2 L754.1,699.4 L755.5,690.4 L756.9,681.3 L758.3,672.0 L759.7,662.6 L761.0,653.1 L762.4,643.4 L763.8,633.6 L765.2,623.6 L766.5,613.5 L767.9,603.2 L769.3,592.8 L770.7,582.2 L772.0,571.5 L773.4,560.6 L774.8,549.5 L776.2,538.2 L777.6,526.8 L778.9,515.2 L780.3,503.5 L781.7,491.5 L783.1,479.4 L783.7,473.3 L784.4,467.1 L785.1,460.9 L785.8,454.6 L786.5,448.3 L787.2,442.0 L787.9,435.5 L788.6,429.1 L789.3,422.6 L789.9,416.0 L790.6,409.4 L791.3,402.8 L792.0,396.1 L792.7,389.8 L793.4,383.9 L794.1,378.3 L794.8,372.9 L795.5,367.9 L796.1,363.2 L796.8,358.8 L797.5,354.7 L798.2,350.9 L798.9,347.3 L799.6,344.0 L800.3,340.9 L801.0,338.1 L802.3,333.2 L803.7,329.3 L805.1,326.2 L806.5,323.9 L807.8,322.3 L809.2,321.5 L810.6,321.4 L812.0,321.9 L813.4,323.1 L814.7,324.8 L816.1,327.0 L817.5,329.8 L818.9,333.0 L820.2,336.6 L821.6,340.7 L823.0,345.2 L824.4,350.0 L825.7,355.1 L827.1,360.6 L828.5,366.4 L829.9,372.4 L831.3,378.7 L832.6,385.2 L834.0,392.0 L835.4,398.9 L836.8,406.0 L838.1,413.3 L839.5,420.7 L840.9,428.3 L842.3,436.0 L843.6,443.8 L845.0,451.7 L846.4,459.7 L847.8,467.8 L849.2,476.0 L850.5,484.2 L851.9,492.5 L853.3,500.8 L854.7,509.1 L856.0,517.5 L857.4,525.9 L858.8,534.3 L860.2,542.7 L861.5,551.2 L862.9,559.6 L864.3,568.0 L865.7,576.4 L867.1,584.7 L868.4,593.1 L869.8,601.4 L871.2,609.7 L872.6,618.0 L873.9,626.2 L875.3,634.4 L876.7,642.5 L878.1,650.6 L879.4,658.6 L880.8,666.6 L882.2,674.5 L883.6,682.4 L885.0,690.2 L886.3,698.0 L887.7,705.6 L889.1,713.3 L890.5,720.8 L891.8,728.3 L893.2,735.8 L894.6,743.1 L896.0,750.4 L897.3,757.7 L898.7,764.8 L900.1,771.9 L901.5,778.9 L902.9,785.9 L904.2,792.7 L905.6,799.5 L907.0,806.3 L908.4,812.9 L909.7,819.5 L911.1,826.0 L912.5,832.5 L913.9,838.8 L915.2,845.1 L916.6,851.3 L918.0,857.5 L919.4,863.5 L920.8,869.5 L922.1,875.5 L923.5,881.3 L924.9,887.1 L926.3,892.8 L927.6,898.5 L929.0,904.0 L930.4,909.6 L931.8,915.0 L933.1,920.4 L934.5,925.7 L935.9,930.9 L937.3,936.0 L938.7,941.1 L940.0,946.2 L941.4,951.1 L942.8,956.0 L944.2,960.9 L945.5,965.6 L946.9,970.4 L948.3,975.0 L949.7,979.6 L951.0,984.1 L952.4,988.6 L953.8,993.0 L955.2,997.3 L956.6,1001.6 L957.9,1005.8 L959.3,1010.0 L960.7,1014.1 L962.1,1018.1 L963.4,1022.1 L964.8,1026.1 L966.2,1030.0 L967.6,1033.8 L968.9,1037.6 L970.3,1041.3 L971.7,1045.0 L973.1,1048.6 L974.5,1052.2 L975.8,1055.7 L977.2,1059.2 L978.6,1062.6 L980.0,1066.0 L981.3,1069.3 L982.7,1072.6 L984.1,1075.8 L985.5,1079.0 L986.8,1082.2 L988.2,1085.3 L989.6,1088.3 L991.0,1091.3 L992.4,1094.3 L993.7,1097.2 L995.1,1100.1 L996.5,1102.9 L997.9,1105.7 L999.2,1108.5 L1000.6,1111.2 L1002.0,1113.9 L1003.4,1116.5 L1004.7,1119.1 L1006.1,1121.7 L1007.5,1124.2 L1008.9,1126.7 L1010.3,1129.2 L1011.6,1131.6 L1013.0,1134.0 L1014.4,1136.4 L1015.8,1138.7 L1017.1,1141.0 L1018.5,1143.2 L1019.9,1145.4 L1021.3,1147.6 L1022.6,1149.8 L1024.0,1151.9 L1025.4,1154.0 L1026.8,1156.0 L1028.2,1158.1 L1029.5,1160.1 L1030.9,1162.0 L1032.3,1164.0 L1033.7,1165.9 L1035.0,1167.8 L1036.4,1169.6 L1037.8,1171.5 L1039.2,1173.3 L1040.5,1175.0 L1041.9,1176.8 L1043.3,1178.5 L1044.7,1180.2 L1046.1,1181.9 L1047.4,1183.5 L1048.8,1185.2 L1050.2,1186.8 L1051.6,1188.3 L1052.9,1189.9 L1054.3,1191.4 L1055.7,1192.9 L1057.1,1194.4 L1058.4,1195.9 L1059.8,1197.3 L1061.2,1198.8 L1062.6,1200.2 L1064.0,1201.5 L1065.3,1202.9 L1066.7,1204.2 L1068.1,1205.6 L1069.5,1206.9 L1070.8,1208.1 L1072.2,1209.4 L1073.6,1210.7 L1075.0,1211.9 L1076.3,1213.1 L1077.7,1214.3 L1079.1,1215.4 L1080.5,1216.6 L1081.9,1217.7 L1083.2,1218.9 L1084.6,1220.0 L1086.0,1221.1 L1087.4,1222.1 L1088.7,1223.2 L1090.1,1224.2 L1091.5,1225.2 L1092.9,1226.3 L1094.2,1227.2 L1095.6,1228.2 L1097.0,1229.2 L1098.4,1230.1 L1099.8,1231.1 L1101.1,1232.0 L1102.5,1232.9 L1103.9,1233.8 L1105.3,1234.7 L1106.6,1235.6 L1108.0,1236.4 L1109.4,1237.3 L1110.8,1238.1 L1112.1,1238.9 L1113.5,1239.7 L1114.9,1240.5 L1116.3,1241.3 L1117.7,1242.1 L1119.0,1242.8 L1120.4,1243.6 L1121.8,1244.3 L1123.2,1245.0 L1124.5,1245.7 L1125.9,1246.5 L1127.3,1247.1 L1128.7,1247.8 L1130.0,1248.5 L1131.4,1249.2 L1132.8,1249.8 L1134.2,1250.5 L1135.6,1251.1 L1136.9,1251.7 L1138.3,1252.3 L1139.7,1253.0 L1141.1,1253.5 L1142.4,1254.1 L1143.8,1254.7 L1145.2,1255.3 L1146.6,1255.9 L1147.9,1256.4 L1149.3,1257.0 L1150.7,1257.5 L1152.1,1258.0 L1153.5,1258.5 L1154.8,1259.1 L1156.2,1259.6 L1157.6,1260.1 L1159.0,1260.6 L1160.3,1261.0 L1161.7,1261.5 L1163.1,1262.0 L1164.5,1262.5 L1165.8,1262.9 L1167.2,1263.4 L1168.6,1263.8 L1170.0,1264.2 L1171.4,1264.7 L1172.7,1265.1 L1174.1,1265.5 L1175.5,1265.9 L1176.9,1266.3 L1178.2,1266.7 L1179.6,1267.1 L1181.0,1267.5 L1182.4,1267.9 L1183.7,1268.3 L1185.1,1268.6 L1186.5,1269.0 L1187.9,1269.4 L1189.3,1269.7 L1190.6,1270.1 L1192.0,1270.4 L1193.4,1270.7 L1194.8,1271.1 L1196.1,1271.4 L1197.5,1271.7 L1198.9,1272.0 L1200.3,1272.4 L1201.6,1272.7 L1203.0,1273.0 L1204.4,1273.3 L1205.8,1273.6 L1207.2,1273.9 L1208.5,1274.1 L1209.9,1274.4 L1211.3,1274.7 L1212.7,1275.0 L1214.0,1275.2 L1215.4,1275.5 L1216.8,1275.8 L1218.2,1276.0 L1219.5,1276.3 L1220.9,1276.5 L1222.3,1276.8 L1223.7,1277.0 L1225.1,1277.3 L1226.4,1277.5 L1227.8,1277.7 L1229.2,1278.0 L1230.6,1278.2 L1231.9,1278.4 L1233.3,1278.6 L1234.7,1278.8 L1236.1,1279.1 L1237.4,1279.3 L1238.8,1279.5 L1240.2,1279.7 L1241.6,1279.9 L1243.0,1280.1 L1244.3,1280.3 L1245.7,1280.5 L1247.1,1280.6 L1248.5,1280.8 L1249.8,1281.0 L1251.2,1281.2 L1252.6,1281.4 L1254.0,1281.5 L1255.3,1281.7 L1256.7,1281.9 L1258.1,1282.1 L1259.5,1282.2 L1260.9,1282.4 L1262.2,1282.5 L1263.6,1282.7 L1265.0,1282.9 L1266.4,1283.0 L1267.7,1283.2 L1269.1,1283.3 L1270.5,1283.4 L1271.9,1283.6 L1273.2,1283.7 L1274.6,1283.9 L1276.0,1284.0 L1277.4,1284.1 L1278.8,1284.3 L1280.1,1284.4 L1281.5,1284.5 L1282.9,1284.7 L1284.3,1284.8 L1285.6,1284.9 L1287.0,1285.0 L1288.4,1285.2 L1289.8,1285.3 L1291.1,1285.4 L1292.5,1285.5 L1293.9,1285.6 L1295.3,1285.7 L1296.7,1285.8 L1298.0,1286.0 L1299.4,1286.1 L1300.8,1286.2 L1302.2,1286.3 L1303.5,1286.4 L1304.9,1286.5 L1306.3,1286.6 L1307.7,1286.7 L1309.0,1286.8 L1310.4,1286.9 L1311.8,1286.9 L1313.2,1287.0 L1314.6,1287.1 L1315.9,1287.2 L1317.3,1287.3 L1318.7,1287.4 L1320.1,1287.5 L1321.4,1287.6 L1322.8,1287.6 L1324.2,1287.7 L1325.6,1287.8 L1326.9,1287.9 L1328.3,1288.0 L1329.7,1288.0 L1331.1,1288.1 L1332.5,1288.2 L1333.8,1288.3 L1335.2,1288.3 L1336.6,1288.4 L1338.0,1288.5 L1339.3,1288.5 L1340.7,1288.6 L1342.1,1288.7 L1343.5,1288.7 L1344.8,1288.8 L1346.2,1288.9 L1347.6,1288.9 L1349.0,1289.0 L1350.4,1289.1 L1351.7,1289.1 L1353.1,1289.2 L1354.5,1289.2 L1355.9,1289.3 L1357.2,1289.4 L1358.6,1289.4 L1360.0,1289.5 L1361.4,1289.5 L1362.7,1289.6 L1364.1,1289.6 L1365.5,1289.7 L1366.9,1289.7 L1368.3,1289.8 L1369.6,1289.8 L1371.0,1289.9 L1372.4,1289.9 L1373.8,1290.0 L1375.1,1290.0 L1376.5,1290.1 L1377.9,1290.1 L1379.3,1290.2 L1380.7,1290.2 L1382.0,1290.2 L1383.4,1290.3 L1384.8,1290.3 L1386.2,1290.4 L1387.5,1290.4 L1388.9,1290.4 L1390.3,1290.5 L1391.7,1290.5 L1393.0,1290.6 L1394.4,1290.6 L1395.8,1290.6 L1397.2,1290.7 L1398.6,1290.7 L1399.9,1290.7 L1401.3,1290.8 L1402.7,1290.8 L1404.1,1290.8 L1405.4,1290.9 L1406.8,1290.9 L1408.2,1290.9 L1409.6,1291.0 L1410.9,1291.0 L1412.3,1291.0 L1413.7,1291.1 L1415.1,1291.1 L1416.5,1291.1 L1417.8,1291.2 L1419.2,1291.2 L1420.6,1291.2 L1422.0,1291.2 L1423.3,1291.3 L1424.7,1291.3 L1426.1,1291.3 L1427.5,1291.4 L1428.8,1291.4 L1430.2,1291.4 L1431.6,1291.4 L1433.0,1291.5 L1434.4,1291.5 L1435.7,1291.5 L1437.1,1291.5 L1438.5,1291.6 L1439.9,1291.6 L1441.2,1291.6 L1442.6,1291.6 L1444.0,1291.6 L1445.4,1291.7 L1446.7,1291.7 L1448.1,1291.7 L1449.5,1291.7 L1450.9,1291.7 L1452.3,1291.8 L1453.6,1291.8 L1455.0,1291.8 L1456.4,1291.8 L1457.8,1291.8 L1459.1,1291.9 L1460.5,1291.9 L1461.9,1291.9 L1463.3,1291.9 L1464.6,1291.9 L1466.0,1292.0 L1467.4,1292.0 L1468.8,1292.0 L1470.2,1292.0 L1471.5,1292.0 L1472.9,1292.0 L1474.3,1292.1 L1475.7,1292.1 L1477.0,1292.1 L1478.4,1292.1 L1479.8,1292.1 L1481.2,1292.1 L1482.5,1292.1 L1483.9,1292.2 L1485.3,1292.2 L1486.7,1292.2 L1488.1,1292.2 L1489.4,1292.2 L1490.8,1292.2 L1492.2,1292.2 L1493.6,1292.3 L1494.9,1292.3 L1496.3,1292.3 L1497.7,1292.3 L1499.1,1292.3 L1500.4,1292.3 L1501.8,1292.3 L1503.2,1292.3 L1504.6,1292.3 L1506.0,1292.4 L1507.3,1292.4 L1508.7,1292.4 L1510.1,1292.4 L1511.5,1292.4 L1512.8,1292.4 L1514.2,1292.4 L1515.6,1292.4 L1517.0,1292.4 L1518.3,1292.5 L1519.7,1292.5 L1521.1,1292.5 L1522.5,1292.5 L1523.9,1292.5 L1525.2,1292.5 L1526.6,1292.5 L1528.0,1292.5 L1529.4,1292.5 L1530.7,1292.5 L1532.1,1292.5 L1533.5,1292.6 L1534.9,1292.6 L1536.2,1292.6 L1537.6,1292.6 L1539.0,1292.6 L1540.4,1292.6 L1541.8,1292.6 L1543.1,1292.6 L1544.5,1292.6 L1545.9,1292.6 L1547.3,1292.6 L1548.6,1292.6 L1550.0,1292.6 L1551.4,1292.6 L1552.8,1292.7 L1554.1,1292.7 L1555.5,1292.7 L1556.9,1292.7 L1558.3,1292.7 L1559.7,1292.7 L1561.0,1292.7 L1562.4,1292.7 L1563.8,1292.7 L1565.2,1292.7 L1566.5,1292.7 L1567.9,1292.7 L1569.3,1292.7 L1570.7,1292.7 L1572.0,1292.7 L1573.4,1292.7 L1574.8,1292.7 L1576.2,1292.8 L1577.6,1292.8 L1578.9,1292.8 L1580.3,1292.8 L1581.7,1292.8 L1583.1,1292.8 L1584.4,1292.8 L1585.8,1292.8 L1587.2,1292.8 L1588.6,1292.8 L1589.9,1292.8 L1591.3,1292.8 L1592.7,1292.8 L1594.1,1292.8 L1595.5,1292.8 L1596.8,1292.8 L1598.2,1292.8 L1599.6,1292.8 L1601.0,1292.8 L1602.3,1292.8 L1603.7,1292.8 L1605.1,1292.8 L1606.5,1292.9 L1607.8,1292.9 L1609.2,1292.9 L1610.6,1292.9 L1612.0,1292.9 L1613.4,1292.9 L1614.7,1292.9 L1616.1,1292.9 L1617.5,1292.9 L1618.9,1292.9 L1620.2,1292.9 L1621.6,1292.9 L1623.0,1292.9 L1624.4,1292.9 L1625.7,1292.9 L1627.1,1292.9 L1628.5,1292.9 L1629.9,1292.9 L1631.3,1292.9 L1632.6,1292.9 L1634.0,1292.9 L1635.4,1292.9 L1636.8,1292.9 L1638.1,1292.9 L1639.5,1292.9 L1640.9,1292.9 L1642.3,1292.9 L1643.6,1292.9 L1645.0,1292.9 L1646.4,1292.9 L1647.8,1292.9 L1649.2,1292.9 L1650.5,1292.9 L1651.9,1292.9 L1653.3,1293.0 L1654.7,1293.0 L1656.0,1293.0 L1657.4,1293.0 L1658.8,1293.0 L1660.2,1293.0 L1661.5,1293.0 L1662.9,1293.0 L1664.3,1293.0 L1665.7,1293.0 L1667.1,1293.0 L1668.4,1293.0 L1669.8,1293.0 L1671.2,1293.0 L1672.6,1293.0 L1673.9,1293.0 L1675.3,1293.0 L1676.7,1293.0 L1678.1,1293.0 L1679.4,1293.0 L1680.8,1293.0 L1682.2,1293.0 L1683.6,1293.0 L1685.0,1293.0 L1686.3,1293.0 L1687.7,1293.0 L1689.1,1293.0 L1690.5,1293.0 L1691.8,1293.0 L1693.2,1293.0 L1694.6,1293.0 L1696.0,1293.0 L1697.3,1293.0 L1698.7,1293.0 L1700.1,1293.0 L1701.5,1293.0 L1702.9,1293.0 L1704.2,1293.0 L1705.6,1293.0 L1707.0,1293.0 L1708.4,1293.0 L1709.0,1293.0" stroke-width="8.1" stroke-dasharray="0.01 27.37 20.48 27.44"/>
<path d="M332.8,1285.1 L334.2,1285.0 L335.6,1284.8 L336.9,1284.7 L338.3,1284.6 L339.7,1284.5 L341.1,1284.3 L342.4,1284.2 L343.8,1284.1 L345.2,1283.9 L346.6,1283.8 L347.9,1283.6 L349.3,1283.5 L350.7,1283.4 L352.1,1283.2 L353.5,1283.1 L354.8,1282.9 L356.2,1282.8 L357.6,1282.6 L359.0,1282.4 L360.3,1282.3 L361.7,1282.1 L363.1,1281.9 L364.5,1281.8 L365.8,1281.6 L367.2,1281.4 L368.6,1281.3 L370.0,1281.1 L371.4,1280.9 L372.7,1280.7 L374.1,1280.5 L375.5,1280.3 L376.9,1280.1 L378.2,1279.9 L379.6,1279.7 L381.0,1279.5 L382.4,1279.3 L383.7,1279.1 L385.1,1278.9 L386.5,1278.7 L387.9,1278.5 L389.3,1278.3 L390.6,1278.0 L392.0,1277.8 L393.4,1277.6 L394.8,1277.3 L396.1,1277.1 L397.5,1276.9 L398.9,1276.6 L400.3,1276.4 L401.6,1276.1 L403.0,1275.9 L404.4,1275.6 L405.8,1275.3 L407.2,1275.1 L408.5,1274.8 L409.9,1274.5 L411.3,1274.2 L412.7,1274.0 L414.0,1273.7 L415.4,1273.4 L416.8,1273.1 L418.2,1272.8 L419.5,1272.5 L420.9,1272.1 L422.3,1271.8 L423.7,1271.5 L425.1,1271.2 L426.4,1270.9 L427.8,1270.5 L429.2,1270.2 L430.6,1269.8 L431.9,1269.5 L433.3,1269.1 L434.7,1268.8 L436.1,1268.4 L437.4,1268.0 L438.8,1267.6 L440.2,1267.2 L441.6,1266.9 L443.0,1266.5 L444.3,1266.1 L445.7,1265.6 L447.1,1265.2 L448.5,1264.8 L449.8,1264.4 L451.2,1264.0 L452.6,1263.5 L454.0,1263.1 L455.3,1262.6 L456.7,1262.1 L458.1,1261.7 L459.5,1261.2 L460.9,1260.7 L462.2,1260.2 L463.6,1259.7 L465.0,1259.2 L466.4,1258.7 L467.7,1258.2 L469.1,1257.7 L470.5,1257.1 L471.9,1256.6 L473.2,1256.0 L474.6,1255.5 L476.0,1254.9 L477.4,1254.3 L478.8,1253.7 L480.1,1253.2 L481.5,1252.5 L482.9,1251.9 L484.3,1251.3 L485.6,1250.7 L487.0,1250.0 L488.4,1249.4 L489.8,1248.7 L491.1,1248.1 L492.5,1247.4 L493.9,1246.7 L495.3,1246.0 L496.7,1245.3 L498.0,1244.5 L499.4,1243.8 L500.8,1243.1 L502.2,1242.3 L503.5,1241.5 L504.9,1240.8 L506.3,1240.0 L507.7,1239.2 L509.0,1238.4 L510.4,1237.5 L511.8,1236.7 L513.2,1235.8 L514.6,1235.0 L515.9,1234.1 L517.3,1233.2 L518.7,1232.3 L520.1,1231.4 L521.4,1230.4 L522.8,1229.5 L524.2,1228.5 L525.6,1227.5 L526.9,1226.6 L528.3,1225.6 L529.7,1224.5 L531.1,1223.5 L532.5,1222.4 L533.8,1221.4 L535.2,1220.3 L536.6,1219.2 L538.0,1218.1 L539.3,1216.9 L540.7,1215.8 L542.1,1214.6 L543.5,1213.4 L544.8,1212.2 L546.2,1211.0 L547.6,1209.8 L549.0,1208.5 L550.4,1207.2 L551.7,1205.9 L553.1,1204.6 L554.5,1203.3 L555.9,1201.9 L557.2,1200.5 L558.6,1199.1 L560.0,1197.7 L561.4,1196.3 L562.7,1194.8 L564.1,1193.3 L565.5,1191.8 L566.9,1190.3 L568.3,1188.7 L569.6,1187.1 L571.0,1185.5 L572.4,1183.9 L573.8,1182.3 L575.1,1180.6 L576.5,1178.9 L577.9,1177.2 L579.3,1175.4 L580.6,1173.6 L582.0,1171.8 L583.4,1170.0 L584.8,1168.1 L586.2,1166.2 L587.5,1164.3 L588.9,1162.4 L590.3,1160.4 L591.7,1158.4 L593.0,1156.3 L594.4,1154.3 L595.8,1152.2 L597.2,1150.0 L598.5,1147.9 L599.9,1145.7 L601.3,1143.5 L602.7,1141.2 L604.1,1138.9 L605.4,1136.6 L606.8,1134.2 L608.2,1131.8 L609.6,1129.4 L610.9,1126.9 L612.3,1124.4 L613.7,1121.8 L615.1,1119.2 L616.4,1116.6 L617.8,1113.9 L619.2,1111.2 L620.6,1108.5 L622.0,1105.7 L623.3,1102.8 L624.7,1100.0 L626.1,1097.0 L627.5,1094.1 L628.8,1091.1 L630.2,1088.0 L631.6,1084.9 L633.0,1081.8 L634.3,1078.6 L635.7,1075.3 L637.1,1072.0 L638.5,1068.7 L639.9,1065.3 L641.2,1061.9 L642.6,1058.4 L644.0,1054.8 L645.4,1051.2 L646.7,1047.5 L648.1,1043.8 L649.5,1040.1 L650.9,1036.2 L652.2,1032.4 L653.6,1028.4 L655.0,1024.4 L656.4,1020.3 L657.8,1016.2 L659.1,1012.0 L660.5,1007.8 L661.9,1003.5 L663.3,999.1 L664.6,994.7 L666.0,990.1 L667.4,985.6 L668.8,980.9 L670.1,976.2 L671.5,971.4 L672.9,966.5 L674.3,961.6 L675.7,956.6 L677.0,951.5 L678.4,946.3 L679.8,941.1 L681.2,935.8 L682.5,930.4 L683.9,924.9 L685.3,919.3 L686.7,913.7 L688.1,907.9 L689.4,902.1 L690.8,896.2 L692.2,890.2 L693.6,884.1 L694.9,877.9 L696.3,871.6 L697.7,865.2 L699.1,858.8 L700.4,852.2 L701.8,845.5 L703.2,838.8 L704.6,831.9 L706.0,824.9 L707.3,817.9 L708.7,810.7 L710.1,803.4 L711.5,796.0 L712.8,788.5 L714.2,780.8 L715.6,773.1 L717.0,765.2 L718.3,757.2 L719.7,749.1 L721.1,740.9 L722.5,732.6 L723.9,724.1 L725.2,715.5 L726.6,706.7 L728.0,697.9 L729.4,688.9 L730.7,679.7 L732.1,670.5 L733.5,661.0 L734.9,651.5 L736.2,641.8 L737.6,631.9 L739.0,621.9 L740.4,611.8 L741.8,601.5 L743.1,591.0 L744.5,580.4 L745.9,569.6 L747.3,558.7 L748.6,547.6 L750.0,536.3 L751.4,524.9 L752.8,513.3 L754.1,501.5 L755.5,489.5 L756.9,477.4 L758.3,465.0 L759.7,452.5 L761.0,439.8 L762.4,426.9 L763.8,413.8 L765.2,400.5 L766.5,387.0 L767.9,373.3 L769.3,359.4 L770.7,345.3 L772.0,330.9 L773.4,316.4 L774.8,301.6 L776.2,286.6 L777.6,271.4 L778.9,256.0 L780.3,240.3 L781.7,224.4 L783.1,208.2 L783.7,200.0 L784.4,191.8 L785.1,183.5 L785.8,175.1 L786.5,166.7 L787.2,158.2 L787.9,149.7 L788.6,141.1 L789.3,132.4 L789.9,123.7 L790.6,114.8 L791.3,106.0 L792.0,108.9 L792.7,117.8 L793.4,126.6 L794.1,135.3 L794.8,144.0 L795.5,152.5 L796.1,161.1 L796.8,169.5 L797.5,177.9 L798.2,186.3 L798.9,194.5 L799.6,202.8 L800.3,210.9 L801.0,219.0 L802.3,235.0 L803.7,250.8 L805.1,266.3 L806.5,281.6 L807.8,296.6 L809.2,311.5 L810.6,326.1 L812.0,340.5 L813.4,354.7 L814.7,368.7 L816.1,382.4 L817.5,396.0 L818.9,409.4 L820.2,422.5 L821.6,435.5 L823.0,448.3 L824.4,460.9 L825.7,473.3 L827.1,485.5 L828.5,497.5 L829.9,509.4 L831.3,521.0 L832.6,532.5 L834.0,543.9 L835.4,555.0 L836.8,566.0 L838.1,576.8 L839.5,587.5 L840.9,598.0 L842.3,608.4 L843.6,618.6 L845.0,628.6 L846.4,638.5 L847.8,648.3 L849.2,657.9 L850.5,667.3 L851.9,676.7 L853.3,685.8 L854.7,694.9 L856.0,703.8 L857.4,712.6 L858.8,721.2 L860.2,729.7 L861.5,738.1 L862.9,746.4 L864.3,754.5 L865.7,762.6 L867.1,770.5 L868.4,778.3 L869.8,785.9 L871.2,793.5 L872.6,800.9 L873.9,808.2 L875.3,815.5 L876.7,822.6 L878.1,829.6 L879.4,836.5 L880.8,843.3 L882.2,850.0 L883.6,856.6 L885.0,863.1 L886.3,869.5 L887.7,875.8 L889.1,882.0 L890.5,888.2 L891.8,894.2 L893.2,900.1 L894.6,906.0 L896.0,911.7 L897.3,917.4 L898.7,923.0 L900.1,928.5 L901.5,934.0 L902.9,939.3 L904.2,944.6 L905.6,949.8 L907.0,954.9 L908.4,959.9 L909.7,964.9 L911.1,969.8 L912.5,974.6 L913.9,979.3 L915.2,984.0 L916.6,988.6 L918.0,993.2 L919.4,997.6 L920.8,1002.0 L922.1,1006.4 L923.5,1010.6 L924.9,1014.8 L926.3,1019.0 L927.6,1023.1 L929.0,1027.1 L930.4,1031.0 L931.8,1035.0 L933.1,1038.8 L934.5,1042.6 L935.9,1046.3 L937.3,1050.0 L938.7,1053.6 L940.0,1057.2 L941.4,1060.7 L942.8,1064.2 L944.2,1067.6 L945.5,1070.9 L946.9,1074.2 L948.3,1077.5 L949.7,1080.7 L951.0,1083.9 L952.4,1087.0 L953.8,1090.1 L955.2,1093.1 L956.6,1096.1 L957.9,1099.0 L959.3,1101.9 L960.7,1104.7 L962.1,1107.5 L963.4,1110.3 L964.8,1113.0 L966.2,1115.7 L967.6,1118.4 L968.9,1121.0 L970.3,1123.5 L971.7,1126.0 L973.1,1128.5 L974.5,1131.0 L975.8,1133.4 L977.2,1135.8 L978.6,1138.1 L980.0,1140.4 L981.3,1142.7 L982.7,1144.9 L984.1,1147.2 L985.5,1149.3 L986.8,1151.5 L988.2,1153.6 L989.6,1155.7 L991.0,1157.7 L992.4,1159.7 L993.7,1161.7 L995.1,1163.7 L996.5,1165.6 L997.9,1167.5 L999.2,1169.4 L1000.6,1171.2 L1002.0,1173.0 L1003.4,1174.8 L1004.7,1176.6 L1006.1,1178.3 L1007.5,1180.0 L1008.9,1181.7 L1010.3,1183.4 L1011.6,1185.0 L1013.0,1186.6 L1014.4,1188.2 L1015.8,1189.8 L1017.1,1191.3 L1018.5,1192.8 L1019.9,1194.3 L1021.3,1195.8 L1022.6,1197.2 L1024.0,1198.7 L1025.4,1200.1 L1026.8,1201.4 L1028.2,1202.8 L1029.5,1204.2 L1030.9,1205.5 L1032.3,1206.8 L1033.7,1208.1 L1035.0,1209.3 L1036.4,1210.6 L1037.8,1211.8 L1039.2,1213.0 L1040.5,1214.2 L1041.9,1215.4 L1043.3,1216.6 L1044.7,1217.7 L1046.1,1218.8 L1047.4,1219.9 L1048.8,1221.0 L1050.2,1222.1 L1051.6,1223.1 L1052.9,1224.2 L1054.3,1225.2 L1055.7,1226.2 L1057.1,1227.2 L1058.4,1228.2 L1059.8,1229.2 L1061.2,1230.1 L1062.6,1231.1 L1064.0,1232.0 L1065.3,1232.9 L1066.7,1233.8 L1068.1,1234.7 L1069.5,1235.5 L1070.8,1236.4 L1072.2,1237.2 L1073.6,1238.1 L1075.0,1238.9 L1076.3,1239.7 L1077.7,1240.5 L1079.1,1241.3 L1080.5,1242.1 L1081.9,1242.8 L1083.2,1243.6 L1084.6,1244.3 L1086.0,1245.0 L1087.4,1245.7 L1088.7,1246.4 L1090.1,1247.1 L1091.5,1247.8 L1092.9,1248.5 L1094.2,1249.2 L1095.6,1249.8 L1097.0,1250.5 L1098.4,1251.1 L1099.8,1251.7 L1101.1,1252.3 L1102.5,1253.0 L1103.9,1253.5 L1105.3,1254.1 L1106.6,1254.7 L1108.0,1255.3 L1109.4,1255.9 L1110.8,1256.4 L1112.1,1257.0 L1113.5,1257.5 L1114.9,1258.0 L1116.3,1258.5 L1117.7,1259.1 L1119.0,1259.6 L1120.4,1260.1 L1121.8,1260.6 L1123.2,1261.0 L1124.5,1261.5 L1125.9,1262.0 L1127.3,1262.5 L1128.7,1262.9 L1130.0,1263.4 L1131.4,1263.8 L1132.8,1264.2 L1134.2,1264.7 L1135.6,1265.1 L1136.9,1265.5 L1138.3,1265.9 L1139.7,1266.3 L1141.1,1266.7 L1142.4,1267.1 L1143.8,1267.5 L1145.2,1267.9 L1146.6,1268.3 L1147.9,1268.6 L1149.3,1269.0 L1150.7,1269.4 L1152.1,1269.7 L1153.5,1270.1 L1154.8,1270.4 L1156.2,1270.7 L1157.6,1271.1 L1159.0,1271.4 L1160.3,1271.7 L1161.7,1272.0 L1163.1,1272.4 L1164.5,1272.7 L1165.8,1273.0 L1167.2,1273.3 L1168.6,1273.6 L1170.0,1273.9 L1171.4,1274.1 L1172.7,1274.4 L1174.1,1274.7 L1175.5,1275.0 L1176.9,1275.2 L1178.2,1275.5 L1179.6,1275.8 L1181.0,1276.0 L1182.4,1276.3 L1183.7,1276.5 L1185.1,1276.8 L1186.5,1277.0 L1187.9,1277.3 L1189.3,1277.5 L1190.6,1277.7 L1192.0,1278.0 L1193.4,1278.2 L1194.8,1278.4 L1196.1,1278.6 L1197.5,1278.8 L1198.9,1279.1 L1200.3,1279.3 L1201.6,1279.5 L1203.0,1279.7 L1204.4,1279.9 L1205.8,1280.1 L1207.2,1280.3 L1208.5,1280.5 L1209.9,1280.6 L1211.3,1280.8 L1212.7,1281.0 L1214.0,1281.2 L1215.4,1281.4 L1216.8,1281.5 L1218.2,1281.7 L1219.5,1281.9 L1220.9,1282.1 L1222.3,1282.2 L1223.7,1282.4 L1225.1,1282.5 L1226.4,1282.7 L1227.8,1282.9 L1229.2,1283.0 L1230.6,1283.2 L1231.9,1283.3 L1233.3,1283.5 L1234.7,1283.6 L1236.1,1283.7 L1237.4,1283.9 L1238.8,1284.0 L1240.2,1284.1 L1241.6,1284.3 L1243.0,1284.4 L1244.3,1284.5 L1245.7,1284.7 L1247.1,1284.8 L1248.5,1284.9 L1249.8,1285.0 L1251.2,1285.2 L1252.6,1285.3 L1254.0,1285.4 L1255.3,1285.5 L1256.7,1285.6 L1258.1,1285.7 L1259.5,1285.8 L1260.9,1286.0 L1262.2,1286.1 L1263.6,1286.2 L1265.0,1286.3 L1266.4,1286.4 L1267.7,1286.5 L1269.1,1286.6 L1270.5,1286.7 L1271.9,1286.8 L1273.2,1286.9 L1274.6,1286.9 L1276.0,1287.0 L1277.4,1287.1 L1278.8,1287.2 L1280.1,1287.3 L1281.5,1287.4 L1282.9,1287.5 L1284.3,1287.6 L1285.6,1287.6 L1287.0,1287.7 L1288.4,1287.8 L1289.8,1287.9 L1291.1,1288.0 L1292.5,1288.0 L1293.9,1288.1 L1295.3,1288.2 L1296.7,1288.3 L1298.0,1288.3 L1299.4,1288.4 L1300.8,1288.5 L1302.2,1288.5 L1303.5,1288.6 L1304.9,1288.7 L1306.3,1288.7 L1307.7,1288.8 L1309.0,1288.9 L1310.4,1288.9 L1311.8,1289.0 L1313.2,1289.1 L1314.6,1289.1 L1315.9,1289.2 L1317.3,1289.2 L1318.7,1289.3 L1320.1,1289.4 L1321.4,1289.4 L1322.8,1289.5 L1324.2,1289.5 L1325.6,1289.6 L1326.9,1289.6 L1328.3,1289.7 L1329.7,1289.7 L1331.1,1289.8 L1332.5,1289.8 L1333.8,1289.9 L1335.2,1289.9 L1336.6,1290.0 L1338.0,1290.0 L1339.3,1290.1 L1340.7,1290.1 L1342.1,1290.2 L1343.5,1290.2 L1344.8,1290.2 L1346.2,1290.3 L1347.6,1290.3 L1349.0,1290.4 L1350.4,1290.4 L1351.7,1290.4 L1353.1,1290.5 L1354.5,1290.5 L1355.9,1290.6 L1357.2,1290.6 L1358.6,1290.6 L1360.0,1290.7 L1361.4,1290.7 L1362.7,1290.7 L1364.1,1290.8 L1365.5,1290.8 L1366.9,1290.8 L1368.3,1290.9 L1369.6,1290.9 L1371.0,1290.9 L1372.4,1291.0 L1373.8,1291.0 L1375.1,1291.0 L1376.5,1291.1 L1377.9,1291.1 L1379.3,1291.1 L1380.7,1291.2 L1382.0,1291.2 L1383.4,1291.2 L1384.8,1291.2 L1386.2,1291.3 L1387.5,1291.3 L1388.9,1291.3 L1390.3,1291.4 L1391.7,1291.4 L1393.0,1291.4 L1394.4,1291.4 L1395.8,1291.5 L1397.2,1291.5 L1398.6,1291.5 L1399.9,1291.5 L1401.3,1291.6 L1402.7,1291.6 L1404.1,1291.6 L1405.4,1291.6 L1406.8,1291.6 L1408.2,1291.7 L1409.6,1291.7 L1410.9,1291.7 L1412.3,1291.7 L1413.7,1291.7 L1415.1,1291.8 L1416.5,1291.8 L1417.8,1291.8 L1419.2,1291.8 L1420.6,1291.8 L1422.0,1291.9 L1423.3,1291.9 L1424.7,1291.9 L1426.1,1291.9 L1427.5,1291.9 L1428.8,1292.0 L1430.2,1292.0 L1431.6,1292.0 L1433.0,1292.0 L1434.4,1292.0 L1435.7,1292.0 L1437.1,1292.1 L1438.5,1292.1 L1439.9,1292.1 L1441.2,1292.1 L1442.6,1292.1 L1444.0,1292.1 L1445.4,1292.1 L1446.7,1292.2 L1448.1,1292.2 L1449.5,1292.2 L1450.9,1292.2 L1452.3,1292.2 L1453.6,1292.2 L1455.0,1292.2 L1456.4,1292.3 L1457.8,1292.3 L1459.1,1292.3 L1460.5,1292.3 L1461.9,1292.3 L1463.3,1292.3 L1464.6,1292.3 L1466.0,1292.3 L1467.4,1292.3 L1468.8,1292.4 L1470.2,1292.4 L1471.5,1292.4 L1472.9,1292.4 L1474.3,1292.4 L1475.7,1292.4 L1477.0,1292.4 L1478.4,1292.4 L1479.8,1292.4 L1481.2,1292.5 L1482.5,1292.5 L1483.9,1292.5 L1485.3,1292.5 L1486.7,1292.5 L1488.1,1292.5 L1489.4,1292.5 L1490.8,1292.5 L1492.2,1292.5 L1493.6,1292.5 L1494.9,1292.5 L1496.3,1292.6 L1497.7,1292.6 L1499.1,1292.6 L1500.4,1292.6 L1501.8,1292.6 L1503.2,1292.6 L1504.6,1292.6 L1506.0,1292.6 L1507.3,1292.6 L1508.7,1292.6 L1510.1,1292.6 L1511.5,1292.6 L1512.8,1292.6 L1514.2,1292.6 L1515.6,1292.7 L1517.0,1292.7 L1518.3,1292.7 L1519.7,1292.7 L1521.1,1292.7 L1522.5,1292.7 L1523.9,1292.7 L1525.2,1292.7 L1526.6,1292.7 L1528.0,1292.7 L1529.4,1292.7 L1530.7,1292.7 L1532.1,1292.7 L1533.5,1292.7 L1534.9,1292.7 L1536.2,1292.7 L1537.6,1292.7 L1539.0,1292.8 L1540.4,1292.8 L1541.8,1292.8 L1543.1,1292.8 L1544.5,1292.8 L1545.9,1292.8 L1547.3,1292.8 L1548.6,1292.8 L1550.0,1292.8 L1551.4,1292.8 L1552.8,1292.8 L1554.1,1292.8 L1555.5,1292.8 L1556.9,1292.8 L1558.3,1292.8 L1559.7,1292.8 L1561.0,1292.8 L1562.4,1292.8 L1563.8,1292.8 L1565.2,1292.8 L1566.5,1292.8 L1567.9,1292.8 L1569.3,1292.9 L1570.7,1292.9 L1572.0,1292.9 L1573.4,1292.9 L1574.8,1292.9 L1576.2,1292.9 L1577.6,1292.9 L1578.9,1292.9 L1580.3,1292.9 L1581.7,1292.9 L1583.1,1292.9 L1584.4,1292.9 L1585.8,1292.9 L1587.2,1292.9 L1588.6,1292.9 L1589.9,1292.9 L1591.3,1292.9 L1592.7,1292.9 L1594.1,1292.9 L1595.5,1292.9 L1596.8,1292.9 L1598.2,1292.9 L1599.6,1292.9 L1601.0,1292.9 L1602.3,1292.9 L1603.7,1292.9 L1605.1,1292.9 L1606.5,1292.9 L1607.8,1292.9 L1609.2,1292.9 L1610.6,1292.9 L1612.0,1292.9 L1613.4,1292.9 L1614.7,1292.9 L1616.1,1293.0 L1617.5,1293.0 L1618.9,1293.0 L1620.2,1293.0 L1621.6,1293.0 L1623.0,1293.0 L1624.4,1293.0 L1625.7,1293.0 L1627.1,1293.0 L1628.5,1293.0 L1629.9,1293.0 L1631.3,1293.0 L1632.6,1293.0 L1634.0,1293.0 L1635.4,1293.0 L1636.8,1293.0 L1638.1,1293.0 L1639.5,1293.0 L1640.9,1293.0 L1642.3,1293.0 L1643.6,1293.0 L1645.0,1293.0 L1646.4,1293.0 L1647.8,1293.0 L1649.2,1293.0 L1650.5,1293.0 L1651.9,1293.0 L1653.3,1293.0 L1654.7,1293.0 L1656.0,1293.0 L1657.4,1293.0 L1658.8,1293.0 L1660.2,1293.0 L1661.5,1293.0 L1662.9,1293.0 L1664.3,1293.0 L1665.7,1293.0 L1667.1,1293.0 L1668.4,1293.0 L1669.8,1293.0 L1671.2,1293.0 L1672.6,1293.0 L1673.9,1293.0 L1675.3,1293.0 L1676.7,1293.0 L1678.1,1293.0 L1679.4,1293.0 L1680.8,1293.0 L1682.2,1293.0 L1683.6,1293.0 L1685.0,1293.0 L1686.3,1293.0 L1687.7,1293.0 L1689.1,1293.0 L1690.5,1293.0 L1691.8,1293.0 L1693.2,1293.0 L1694.6,1293.0 L1696.0,1293.0 L1697.3,1293.0 L1698.7,1293.0 L1700.1,1293.0 L1701.5,1293.0 L1702.9,1293.0 L1704.2,1293.0 L1705.6,1293.0 L1707.0,1293.0 L1708.4,1293.0 L1709.0,1293.0" stroke-width="8.1" />
<rect x="1250.3" y="103.0" width="534.1" height="329.2" stroke-width="4.2" fill="#fff"/>
<path d="M1300.3,168.4 L1398.3,168.4" stroke-width="8.1" stroke-dasharray="20.48 34.28"/>
<path d="M1300.3,234.5 L1398.3,234.5" stroke-width="7.8" stroke-dasharray="0.01 27.37"/>
<path d="M1300.3,300.6 L1398.3,300.6" stroke-width="8.1" stroke-dasharray="0.01 27.37 20.48 27.44"/>
<path d="M1300.3,366.7 L1398.3,366.7" stroke-width="8.1" />
</g>
<rect x="278.2" y="55.4" width="1485.8" height="1284.8" stroke-width="4.1"/>
<path d="M276.2,55.50 H1766.0 M276.2,1340.35 H1766.0" stroke-width="4.8" stroke-linecap="butt"/>
<path d="M332.8,1340.2 v33.7 M791.5,1340.2 v33.7 M1250.3,1340.2 v33.7 M1709.0,1340.2 v33.7 M278.2,1293.1 h-33.4 M278.2,1055.1 h-33.4 M278.2,817.1 h-33.4 M278.2,579.0 h-33.4 M278.2,341.0 h-33.4 M278.2,103.0 h-33.4" stroke-width="4.2"/>
</g>
<g text-anchor="middle">
<text transform="translate(332.8,1458.4) scale(1,1.015)">−5</text>
<text transform="translate(791.5,1458.4) scale(1,1.015)">0</text>
<text transform="translate(1250.3,1458.4) scale(1,1.015)">5</text>
<text transform="translate(1709.0,1458.4) scale(1,1.015)">10</text>
<text transform="translate(198.7,1293.1) rotate(-90) scale(0.966,1.01)">0.0</text>
<text transform="translate(198.7,1055.1) rotate(-90) scale(0.966,1.01)">0.1</text>
<text transform="translate(198.7,817.1) rotate(-90) scale(0.966,1.01)">0.2</text>
<text transform="translate(198.7,579.0) rotate(-90) scale(0.966,1.01)">0.3</text>
<text transform="translate(198.7,341.0) rotate(-90) scale(0.966,1.01)">0.4</text>
<text transform="translate(198.7,103.0) rotate(-90) scale(0.966,1.01)">0.5</text>
<text transform="translate(68,697.3) rotate(-90) scale(0.99,1.02)">Density</text>
<text transform="translate(1020.9,1589.6) scale(0.92,0.96)">y</text>
</g>
<g clip-path="url(#c0)">
<text transform="translate(1446.6,183.1) scale(1,1.030)">EML(0,1,0.3)</text>
<text transform="translate(1446.6,249.2) scale(1,1.030)">EML(0,1,0.7)</text>
<text transform="translate(1446.6,315.3) scale(1,1.030)">EML(0,1,3)</text>
<text transform="translate(1446.6,381.4) scale(1,1.030)">L(0,1)</text>
</g>
<g fill="none" stroke="#000" stroke-linecap="round" stroke-linejoin="round">
<g clip-path="url(#c1)">
<path d="M332.8,2938.8 L334.2,2938.7 L335.6,2938.7 L336.9,2938.6 L338.3,2938.6 L339.7,2938.5 L341.1,2938.5 L342.4,2938.4 L343.8,2938.4 L345.2,2938.3 L346.6,2938.3 L347.9,2938.2 L349.3,2938.1 L350.7,2938.1 L352.1,2938.0 L353.5,2938.0 L354.8,2937.9 L356.2,2937.8 L357.6,2937.8 L359.0,2937.7 L360.3,2937.6 L361.7,2937.6 L363.1,2937.5 L364.5,2937.4 L365.8,2937.4 L367.2,2937.3 L368.6,2937.2 L370.0,2937.1 L371.4,2937.1 L372.7,2937.0 L374.1,2936.9 L375.5,2936.8 L376.9,2936.8 L378.2,2936.7 L379.6,2936.6 L381.0,2936.5 L382.4,2936.4 L383.7,2936.3 L385.1,2936.3 L386.5,2936.2 L387.9,2936.1 L389.3,2936.0 L390.6,2935.9 L392.0,2935.8 L393.4,2935.7 L394.8,2935.6 L396.1,2935.5 L397.5,2935.4 L398.9,2935.3 L400.3,2935.2 L401.6,2935.1 L403.0,2935.0 L404.4,2934.9 L405.8,2934.8 L407.2,2934.7 L408.5,2934.6 L409.9,2934.4 L411.3,2934.3 L412.7,2934.2 L414.0,2934.1 L415.4,2934.0 L416.8,2933.9 L418.2,2933.7 L419.5,2933.6 L420.9,2933.5 L422.3,2933.3 L423.7,2933.2 L425.1,2933.1 L426.4,2932.9 L427.8,2932.8 L429.2,2932.7 L430.6,2932.5 L431.9,2932.4 L433.3,2932.2 L434.7,2932.1 L436.1,2931.9 L437.4,2931.8 L438.8,2931.6 L440.2,2931.5 L441.6,2931.3 L443.0,2931.1 L444.3,2931.0 L445.7,2930.8 L447.1,2930.6 L448.5,2930.5 L449.8,2930.3 L451.2,2930.1 L452.6,2929.9 L454.0,2929.7 L455.3,2929.5 L456.7,2929.4 L458.1,2929.2 L459.5,2929.0 L460.9,2928.8 L462.2,2928.6 L463.6,2928.4 L465.0,2928.2 L466.4,2927.9 L467.7,2927.7 L469.1,2927.5 L470.5,2927.3 L471.9,2927.1 L473.2,2926.8 L474.6,2926.6 L476.0,2926.4 L477.4,2926.1 L478.8,2925.9 L480.1,2925.7 L481.5,2925.4 L482.9,2925.1 L484.3,2924.9 L485.6,2924.6 L487.0,2924.4 L488.4,2924.1 L489.8,2923.8 L491.1,2923.6 L492.5,2923.3 L493.9,2923.0 L495.3,2922.7 L496.7,2922.4 L498.0,2922.1 L499.4,2921.8 L500.8,2921.5 L502.2,2921.2 L503.5,2920.9 L504.9,2920.5 L506.3,2920.2 L507.7,2919.9 L509.0,2919.6 L510.4,2919.2 L511.8,2918.9 L513.2,2918.5 L514.6,2918.2 L515.9,2917.8 L517.3,2917.4 L518.7,2917.1 L520.1,2916.7 L521.4,2916.3 L522.8,2915.9 L524.2,2915.5 L525.6,2915.1 L526.9,2914.7 L528.3,2914.3 L529.7,2913.9 L531.1,2913.4 L532.5,2913.0 L533.8,2912.6 L535.2,2912.1 L536.6,2911.7 L538.0,2911.2 L539.3,2910.7 L540.7,2910.3 L542.1,2909.8 L543.5,2909.3 L544.8,2908.8 L546.2,2908.3 L547.6,2907.8 L549.0,2907.3 L550.4,2906.7 L551.7,2906.2 L553.1,2905.7 L554.5,2905.1 L555.9,2904.5 L557.2,2904.0 L558.6,2903.4 L560.0,2902.8 L561.4,2902.2 L562.7,2901.6 L564.1,2901.0 L565.5,2900.4 L566.9,2899.8 L568.3,2899.1 L569.6,2898.5 L571.0,2897.8 L572.4,2897.1 L573.8,2896.5 L575.1,2895.8 L576.5,2895.1 L577.9,2894.4 L579.3,2893.6 L580.6,2892.9 L582.0,2892.2 L583.4,2891.4 L584.8,2890.6 L586.2,2889.9 L587.5,2889.1 L588.9,2888.3 L590.3,2887.5 L591.7,2886.6 L593.0,2885.8 L594.4,2884.9 L595.8,2884.1 L597.2,2883.2 L598.5,2882.3 L599.9,2881.4 L601.3,2880.5 L602.7,2879.6 L604.1,2878.6 L605.4,2877.6 L606.8,2876.7 L608.2,2875.7 L609.6,2874.7 L610.9,2873.7 L612.3,2872.6 L613.7,2871.6 L615.1,2870.5 L616.4,2869.4 L617.8,2868.3 L619.2,2867.2 L620.6,2866.1 L622.0,2864.9 L623.3,2863.8 L624.7,2862.6 L626.1,2861.4 L627.5,2860.2 L628.8,2858.9 L630.2,2857.7 L631.6,2856.4 L633.0,2855.1 L634.3,2853.8 L635.7,2852.4 L637.1,2851.1 L638.5,2849.7 L639.9,2848.3 L641.2,2846.9 L642.6,2845.4 L644.0,2844.0 L645.4,2842.5 L646.7,2841.0 L648.1,2839.5 L649.5,2837.9 L650.9,2836.3 L652.2,2834.7 L653.6,2833.1 L655.0,2831.5 L656.4,2829.8 L657.8,2828.1 L659.1,2826.4 L660.5,2824.6 L661.9,2822.8 L663.3,2821.0 L664.6,2819.2 L666.0,2817.4 L667.4,2815.5 L668.8,2813.5 L670.1,2811.6 L671.5,2809.6 L672.9,2807.6 L674.3,2805.6 L675.7,2803.5 L677.0,2801.4 L678.4,2799.3 L679.8,2797.2 L681.2,2795.0 L682.5,2792.7 L683.9,2790.5 L685.3,2788.2 L686.7,2785.9 L688.1,2783.5 L689.4,2781.1 L690.8,2778.7 L692.2,2776.2 L693.6,2773.7 L694.9,2771.1 L696.3,2768.5 L697.7,2765.9 L699.1,2763.3 L700.4,2760.6 L701.8,2757.8 L703.2,2755.0 L704.6,2752.2 L706.0,2749.3 L707.3,2746.4 L708.7,2743.5 L710.1,2740.4 L711.5,2737.4 L712.8,2734.3 L714.2,2731.2 L715.6,2728.0 L717.0,2724.7 L718.3,2721.4 L719.7,2718.1 L721.1,2714.7 L722.5,2711.3 L723.9,2707.8 L725.2,2704.3 L726.6,2700.7 L728.0,2697.0 L729.4,2693.3 L730.7,2689.5 L732.1,2685.7 L733.5,2681.8 L734.9,2677.9 L736.2,2673.9 L737.6,2669.9 L739.0,2665.7 L740.4,2661.6 L741.8,2657.3 L743.1,2653.0 L744.5,2648.6 L745.9,2644.2 L747.3,2639.7 L748.6,2635.1 L750.0,2630.5 L751.4,2625.8 L752.8,2621.0 L754.1,2616.1 L755.5,2611.2 L756.9,2606.2 L758.3,2601.1 L759.7,2596.0 L761.0,2590.7 L762.4,2585.4 L763.8,2580.0 L765.2,2574.6 L766.5,2569.0 L767.9,2563.4 L769.3,2557.6 L770.7,2551.8 L772.0,2545.9 L773.4,2539.9 L774.8,2533.8 L776.2,2527.7 L777.6,2521.4 L778.9,2515.0 L780.3,2508.6 L781.7,2502.0 L783.1,2495.4 L783.7,2492.0 L784.4,2488.6 L785.1,2485.2 L785.8,2481.8 L786.5,2478.3 L787.2,2474.8 L787.9,2471.3 L788.6,2467.7 L789.3,2464.2 L789.9,2460.6 L790.6,2456.9 L791.3,2453.3 L792.0,2449.6 L792.7,2446.0 L793.4,2442.5 L794.1,2439.0 L794.8,2435.6 L795.5,2432.3 L796.1,2429.0 L796.8,2425.8 L797.5,2422.6 L798.2,2419.5 L798.9,2416.5 L799.6,2413.5 L800.3,2410.6 L801.0,2407.7 L802.3,2402.1 L803.7,2396.8 L805.1,2391.7 L806.5,2386.8 L807.8,2382.1 L809.2,2377.6 L810.6,2373.3 L812.0,2369.3 L813.4,2365.4 L814.7,2361.7 L816.1,2358.1 L817.5,2354.8 L818.9,2351.6 L820.2,2348.6 L821.6,2345.8 L823.0,2343.1 L824.4,2340.6 L825.7,2338.3 L827.1,2336.1 L828.5,2334.1 L829.9,2332.2 L831.3,2330.4 L832.6,2328.8 L834.0,2327.3 L835.4,2326.0 L836.8,2324.7 L838.1,2323.7 L839.5,2322.7 L840.9,2321.8 L842.3,2321.1 L843.6,2320.5 L845.0,2320.0 L846.4,2319.6 L847.8,2319.3 L849.2,2319.1 L850.5,2319.1 L851.9,2319.1 L853.3,2319.2 L854.7,2319.4 L856.0,2319.7 L857.4,2320.1 L858.8,2320.6 L860.2,2321.2 L861.5,2321.8 L862.9,2322.5 L864.3,2323.3 L865.7,2324.2 L867.1,2325.2 L868.4,2326.2 L869.8,2327.3 L871.2,2328.4 L872.6,2329.7 L873.9,2331.0 L875.3,2332.3 L876.7,2333.8 L878.1,2335.2 L879.4,2336.8 L880.8,2338.4 L882.2,2340.0 L883.6,2341.7 L885.0,2343.4 L886.3,2345.2 L887.7,2347.1 L889.1,2349.0 L890.5,2350.9 L891.8,2352.9 L893.2,2354.9 L894.6,2357.0 L896.0,2359.1 L897.3,2361.2 L898.7,2363.4 L900.1,2365.6 L901.5,2367.8 L902.9,2370.1 L904.2,2372.4 L905.6,2374.7 L907.0,2377.1 L908.4,2379.5 L909.7,2381.9 L911.1,2384.4 L912.5,2386.9 L913.9,2389.4 L915.2,2391.9 L916.6,2394.4 L918.0,2397.0 L919.4,2399.6 L920.8,2402.2 L922.1,2404.8 L923.5,2407.4 L924.9,2410.1 L926.3,2412.8 L927.6,2415.5 L929.0,2418.2 L930.4,2420.9 L931.8,2423.6 L933.1,2426.4 L934.5,2429.1 L935.9,2431.9 L937.3,2434.6 L938.7,2437.4 L940.0,2440.2 L941.4,2443.0 L942.8,2445.8 L944.2,2448.6 L945.5,2451.4 L946.9,2454.3 L948.3,2457.1 L949.7,2459.9 L951.0,2462.8 L952.4,2465.6 L953.8,2468.4 L955.2,2471.3 L956.6,2474.1 L957.9,2477.0 L959.3,2479.8 L960.7,2482.7 L962.1,2485.5 L963.4,2488.4 L964.8,2491.2 L966.2,2494.1 L967.6,2496.9 L968.9,2499.7 L970.3,2502.6 L971.7,2505.4 L973.1,2508.2 L974.5,2511.1 L975.8,2513.9 L977.2,2516.7 L978.6,2519.5 L980.0,2522.3 L981.3,2525.1 L982.7,2527.9 L984.1,2530.7 L985.5,2533.5 L986.8,2536.3 L988.2,2539.1 L989.6,2541.8 L991.0,2544.6 L992.4,2547.3 L993.7,2550.1 L995.1,2552.8 L996.5,2555.5 L997.9,2558.3 L999.2,2561.0 L1000.6,2563.7 L1002.0,2566.4 L1003.4,2569.0 L1004.7,2571.7 L1006.1,2574.4 L1007.5,2577.0 L1008.9,2579.7 L1010.3,2582.3 L1011.6,2584.9 L1013.0,2587.5 L1014.4,2590.1 L1015.8,2592.7 L1017.1,2595.3 L1018.5,2597.9 L1019.9,2600.4 L1021.3,2603.0 L1022.6,2605.5 L1024.0,2608.0 L1025.4,2610.5 L1026.8,2613.0 L1028.2,2615.5 L1029.5,2618.0 L1030.9,2620.5 L1032.3,2622.9 L1033.7,2625.4 L1035.0,2627.8 L1036.4,2630.2 L1037.8,2632.6 L1039.2,2635.0 L1040.5,2637.4 L1041.9,2639.7 L1043.3,2642.1 L1044.7,2644.4 L1046.1,2646.8 L1047.4,2649.1 L1048.8,2651.4 L1050.2,2653.7 L1051.6,2656.0 L1052.9,2658.2 L1054.3,2660.5 L1055.7,2662.7 L1057.1,2664.9 L1058.4,2667.1 L1059.8,2669.3 L1061.2,2671.5 L1062.6,2673.7 L1064.0,2675.9 L1065.3,2678.0 L1066.7,2680.2 L1068.1,2682.3 L1069.5,2684.4 L1070.8,2686.5 L1072.2,2688.6 L1073.6,2690.6 L1075.0,2692.7 L1076.3,2694.7 L1077.7,2696.8 L1079.1,2698.8 L1080.5,2700.8 L1081.9,2702.8 L1083.2,2704.8 L1084.6,2706.7 L1086.0,2708.7 L1087.4,2710.6 L1088.7,2712.6 L1090.1,2714.5 L1091.5,2716.4 L1092.9,2718.3 L1094.2,2720.1 L1095.6,2722.0 L1097.0,2723.8 L1098.4,2725.7 L1099.8,2727.5 L1101.1,2729.3 L1102.5,2731.1 L1103.9,2732.9 L1105.3,2734.7 L1106.6,2736.5 L1108.0,2738.2 L1109.4,2739.9 L1110.8,2741.7 L1112.1,2743.4 L1113.5,2745.1 L1114.9,2746.8 L1116.3,2748.5 L1117.7,2750.1 L1119.0,2751.8 L1120.4,2753.4 L1121.8,2755.0 L1123.2,2756.7 L1124.5,2758.3 L1125.9,2759.9 L1127.3,2761.4 L1128.7,2763.0 L1130.0,2764.6 L1131.4,2766.1 L1132.8,2767.7 L1134.2,2769.2 L1135.6,2770.7 L1136.9,2772.2 L1138.3,2773.7 L1139.7,2775.2 L1141.1,2776.6 L1142.4,2778.1 L1143.8,2779.5 L1145.2,2781.0 L1146.6,2782.4 L1147.9,2783.8 L1149.3,2785.2 L1150.7,2786.6 L1152.1,2788.0 L1153.5,2789.3 L1154.8,2790.7 L1156.2,2792.0 L1157.6,2793.4 L1159.0,2794.7 L1160.3,2796.0 L1161.7,2797.3 L1163.1,2798.6 L1164.5,2799.9 L1165.8,2801.2 L1167.2,2802.4 L1168.6,2803.7 L1170.0,2804.9 L1171.4,2806.2 L1172.7,2807.4 L1174.1,2808.6 L1175.5,2809.8 L1176.9,2811.0 L1178.2,2812.2 L1179.6,2813.4 L1181.0,2814.5 L1182.4,2815.7 L1183.7,2816.8 L1185.1,2818.0 L1186.5,2819.1 L1187.9,2820.2 L1189.3,2821.3 L1190.6,2822.4 L1192.0,2823.5 L1193.4,2824.6 L1194.8,2825.7 L1196.1,2826.7 L1197.5,2827.8 L1198.9,2828.8 L1200.3,2829.9 L1201.6,2830.9 L1203.0,2831.9 L1204.4,2832.9 L1205.8,2833.9 L1207.2,2834.9 L1208.5,2835.9 L1209.9,2836.9 L1211.3,2837.9 L1212.7,2838.8 L1214.0,2839.8 L1215.4,2840.7 L1216.8,2841.7 L1218.2,2842.6 L1219.5,2843.5 L1220.9,2844.4 L1222.3,2845.3 L1223.7,2846.2 L1225.1,2847.1 L1226.4,2848.0 L1227.8,2848.9 L1229.2,2849.8 L1230.6,2850.6 L1231.9,2851.5 L1233.3,2852.3 L1234.7,2853.2 L1236.1,2854.0 L1237.4,2854.8 L1238.8,2855.6 L1240.2,2856.4 L1241.6,2857.2 L1243.0,2858.0 L1244.3,2858.8 L1245.7,2859.6 L1247.1,2860.4 L1248.5,2861.1 L1249.8,2861.9 L1251.2,2862.7 L1252.6,2863.4 L1254.0,2864.1 L1255.3,2864.9 L1256.7,2865.6 L1258.1,2866.3 L1259.5,2867.0 L1260.9,2867.8 L1262.2,2868.5 L1263.6,2869.2 L1265.0,2869.8 L1266.4,2870.5 L1267.7,2871.2 L1269.1,2871.9 L1270.5,2872.5 L1271.9,2873.2 L1273.2,2873.9 L1274.6,2874.5 L1276.0,2875.2 L1277.4,2875.8 L1278.8,2876.4 L1280.1,2877.0 L1281.5,2877.7 L1282.9,2878.3 L1284.3,2878.9 L1285.6,2879.5 L1287.0,2880.1 L1288.4,2880.7 L1289.8,2881.3 L1291.1,2881.9 L1292.5,2882.4 L1293.9,2883.0 L1295.3,2883.6 L1296.7,2884.1 L1298.0,2884.7 L1299.4,2885.2 L1300.8,2885.8 L1302.2,2886.3 L1303.5,2886.9 L1304.9,2887.4 L1306.3,2887.9 L1307.7,2888.4 L1309.0,2888.9 L1310.4,2889.5 L1311.8,2890.0 L1313.2,2890.5 L1314.6,2891.0 L1315.9,2891.5 L1317.3,2891.9 L1318.7,2892.4 L1320.1,2892.9 L1321.4,2893.4 L1322.8,2893.9 L1324.2,2894.3 L1325.6,2894.8 L1326.9,2895.2 L1328.3,2895.7 L1329.7,2896.1 L1331.1,2896.6 L1332.5,2897.0 L1333.8,2897.5 L1335.2,2897.9 L1336.6,2898.3 L1338.0,2898.8 L1339.3,2899.2 L1340.7,2899.6 L1342.1,2900.0 L1343.5,2900.4 L1344.8,2900.8 L1346.2,2901.2 L1347.6,2901.6 L1349.0,2902.0 L1350.4,2902.4 L1351.7,2902.8 L1353.1,2903.2 L1354.5,2903.6 L1355.9,2903.9 L1357.2,2904.3 L1358.6,2904.7 L1360.0,2905.0 L1361.4,2905.4 L1362.7,2905.8 L1364.1,2906.1 L1365.5,2906.5 L1366.9,2906.8 L1368.3,2907.2 L1369.6,2907.5 L1371.0,2907.8 L1372.4,2908.2 L1373.8,2908.5 L1375.1,2908.8 L1376.5,2909.2 L1377.9,2909.5 L1379.3,2909.8 L1380.7,2910.1 L1382.0,2910.4 L1383.4,2910.8 L1384.8,2911.1 L1386.2,2911.4 L1387.5,2911.7 L1388.9,2912.0 L1390.3,2912.3 L1391.7,2912.6 L1393.0,2912.8 L1394.4,2913.1 L1395.8,2913.4 L1397.2,2913.7 L1398.6,2914.0 L1399.9,2914.3 L1401.3,2914.5 L1402.7,2914.8 L1404.1,2915.1 L1405.4,2915.3 L1406.8,2915.6 L1408.2,2915.9 L1409.6,2916.1 L1410.9,2916.4 L1412.3,2916.6 L1413.7,2916.9 L1415.1,2917.1 L1416.5,2917.4 L1417.8,2917.6 L1419.2,2917.9 L1420.6,2918.1 L1422.0,2918.4 L1423.3,2918.6 L1424.7,2918.8 L1426.1,2919.1 L1427.5,2919.3 L1428.8,2919.5 L1430.2,2919.7 L1431.6,2920.0 L1433.0,2920.2 L1434.4,2920.4 L1435.7,2920.6 L1437.1,2920.8 L1438.5,2921.0 L1439.9,2921.2 L1441.2,2921.4 L1442.6,2921.7 L1444.0,2921.9 L1445.4,2922.1 L1446.7,2922.3 L1448.1,2922.5 L1449.5,2922.7 L1450.9,2922.8 L1452.3,2923.0 L1453.6,2923.2 L1455.0,2923.4 L1456.4,2923.6 L1457.8,2923.8 L1459.1,2924.0 L1460.5,2924.2 L1461.9,2924.3 L1463.3,2924.5 L1464.6,2924.7 L1466.0,2924.9 L1467.4,2925.0 L1468.8,2925.2 L1470.2,2925.4 L1471.5,2925.5 L1472.9,2925.7 L1474.3,2925.9 L1475.7,2926.0 L1477.0,2926.2 L1478.4,2926.3 L1479.8,2926.5 L1481.2,2926.7 L1482.5,2926.8 L1483.9,2927.0 L1485.3,2927.1 L1486.7,2927.3 L1488.1,2927.4 L1489.4,2927.6 L1490.8,2927.7 L1492.2,2927.9 L1493.6,2928.0 L1494.9,2928.1 L1496.3,2928.3 L1497.7,2928.4 L1499.1,2928.6 L1500.4,2928.7 L1501.8,2928.8 L1503.2,2929.0 L1504.6,2929.1 L1506.0,2929.2 L1507.3,2929.4 L1508.7,2929.5 L1510.1,2929.6 L1511.5,2929.7 L1512.8,2929.9 L1514.2,2930.0 L1515.6,2930.1 L1517.0,2930.2 L1518.3,2930.3 L1519.7,2930.5 L1521.1,2930.6 L1522.5,2930.7 L1523.9,2930.8 L1525.2,2930.9 L1526.6,2931.0 L1528.0,2931.1 L1529.4,2931.3 L1530.7,2931.4 L1532.1,2931.5 L1533.5,2931.6 L1534.9,2931.7 L1536.2,2931.8 L1537.6,2931.9 L1539.0,2932.0 L1540.4,2932.1 L1541.8,2932.2 L1543.1,2932.3 L1544.5,2932.4 L1545.9,2932.5 L1547.3,2932.6 L1548.6,2932.7 L1550.0,2932.8 L1551.4,2932.9 L1552.8,2933.0 L1554.1,2933.1 L1555.5,2933.2 L1556.9,2933.3 L1558.3,2933.3 L1559.7,2933.4 L1561.0,2933.5 L1562.4,2933.6 L1563.8,2933.7 L1565.2,2933.8 L1566.5,2933.9 L1567.9,2933.9 L1569.3,2934.0 L1570.7,2934.1 L1572.0,2934.2 L1573.4,2934.3 L1574.8,2934.3 L1576.2,2934.4 L1577.6,2934.5 L1578.9,2934.6 L1580.3,2934.7 L1581.7,2934.7 L1583.1,2934.8 L1584.4,2934.9 L1585.8,2935.0 L1587.2,2935.0 L1588.6,2935.1 L1589.9,2935.2 L1591.3,2935.2 L1592.7,2935.3 L1594.1,2935.4 L1595.5,2935.4 L1596.8,2935.5 L1598.2,2935.6 L1599.6,2935.6 L1601.0,2935.7 L1602.3,2935.8 L1603.7,2935.8 L1605.1,2935.9 L1606.5,2936.0 L1607.8,2936.0 L1609.2,2936.1 L1610.6,2936.2 L1612.0,2936.2 L1613.4,2936.3 L1614.7,2936.3 L1616.1,2936.4 L1617.5,2936.5 L1618.9,2936.5 L1620.2,2936.6 L1621.6,2936.6 L1623.0,2936.7 L1624.4,2936.7 L1625.7,2936.8 L1627.1,2936.8 L1628.5,2936.9 L1629.9,2936.9 L1631.3,2937.0 L1632.6,2937.1 L1634.0,2937.1 L1635.4,2937.2 L1636.8,2937.2 L1638.1,2937.3 L1639.5,2937.3 L1640.9,2937.4 L1642.3,2937.4 L1643.6,2937.5 L1645.0,2937.5 L1646.4,2937.5 L1647.8,2937.6 L1649.2,2937.6 L1650.5,2937.7 L1651.9,2937.7 L1653.3,2937.8 L1654.7,2937.8 L1656.0,2937.9 L1657.4,2937.9 L1658.8,2937.9 L1660.2,2938.0 L1661.5,2938.0 L1662.9,2938.1 L1664.3,2938.1 L1665.7,2938.2 L1667.1,2938.2 L1668.4,2938.2 L1669.8,2938.3 L1671.2,2938.3 L1672.6,2938.4 L1673.9,2938.4 L1675.3,2938.4 L1676.7,2938.5 L1678.1,2938.5 L1679.4,2938.5 L1680.8,2938.6 L1682.2,2938.6 L1683.6,2938.6 L1685.0,2938.7 L1686.3,2938.7 L1687.7,2938.8 L1689.1,2938.8 L1690.5,2938.8 L1691.8,2938.9 L1693.2,2938.9 L1694.6,2938.9 L1696.0,2939.0 L1697.3,2939.0 L1698.7,2939.0 L1700.1,2939.0 L1701.5,2939.1 L1702.9,2939.1 L1704.2,2939.1 L1705.6,2939.2 L1707.0,2939.2 L1708.4,2939.2 L1709.0,2939.2" stroke-width="8.1" />
<path d="M332.8,2942.1 L334.2,2942.1 L335.6,2942.1 L336.9,2942.1 L338.3,2942.1 L339.7,2942.1 L341.1,2942.1 L342.4,2942.1 L343.8,2942.1 L345.2,2942.1 L346.6,2942.1 L347.9,2942.1 L349.3,2942.1 L350.7,2942.1 L352.1,2942.1 L353.5,2942.1 L354.8,2942.1 L356.2,2942.1 L357.6,2942.1 L359.0,2942.1 L360.3,2942.1 L361.7,2942.1 L363.1,2942.1 L364.5,2942.1 L365.8,2942.1 L367.2,2942.1 L368.6,2942.1 L370.0,2942.1 L371.4,2942.1 L372.7,2942.1 L374.1,2942.1 L375.5,2942.1 L376.9,2942.1 L378.2,2942.1 L379.6,2942.1 L381.0,2942.1 L382.4,2942.1 L383.7,2942.1 L385.1,2942.1 L386.5,2942.1 L387.9,2942.1 L389.3,2942.1 L390.6,2942.1 L392.0,2942.1 L393.4,2942.1 L394.8,2942.1 L396.1,2942.1 L397.5,2942.1 L398.9,2942.1 L400.3,2942.1 L401.6,2942.1 L403.0,2942.1 L404.4,2942.1 L405.8,2942.1 L407.2,2942.1 L408.5,2942.1 L409.9,2942.1 L411.3,2942.1 L412.7,2942.1 L414.0,2942.1 L415.4,2942.1 L416.8,2942.1 L418.2,2942.1 L419.5,2942.1 L420.9,2942.1 L422.3,2942.1 L423.7,2942.1 L425.1,2942.1 L426.4,2942.1 L427.8,2942.1 L429.2,2942.1 L430.6,2942.1 L431.9,2942.1 L433.3,2942.1 L434.7,2942.1 L436.1,2942.1 L437.4,2942.1 L438.8,2942.1 L440.2,2942.1 L441.6,2942.1 L443.0,2942.1 L444.3,2942.1 L445.7,2942.1 L447.1,2942.1 L448.5,2942.1 L449.8,2942.1 L451.2,2942.1 L452.6,2942.1 L454.0,2942.1 L455.3,2942.1 L456.7,2942.1 L458.1,2942.1 L459.5,2942.1 L460.9,2942.1 L462.2,2942.1 L463.6,2942.1 L465.0,2942.1 L466.4,2942.1 L467.7,2942.1 L469.1,2942.1 L470.5,2942.1 L471.9,2942.1 L473.2,2942.1 L474.6,2942.1 L476.0,2942.1 L477.4,2942.1 L478.8,2942.1 L480.1,2942.1 L481.5,2942.1 L482.9,2942.1 L484.3,2942.1 L485.6,2942.1 L487.0,2942.1 L488.4,2942.1 L489.8,2942.1 L491.1,2942.1 L492.5,2942.0 L493.9,2942.0 L495.3,2942.0 L496.7,2942.0 L498.0,2942.0 L499.4,2942.0 L500.8,2942.0 L502.2,2942.0 L503.5,2942.0 L504.9,2942.0 L506.3,2942.0 L507.7,2942.0 L509.0,2942.0 L510.4,2942.0 L511.8,2942.0 L513.2,2942.0 L514.6,2942.0 L515.9,2942.0 L517.3,2942.0 L518.7,2942.0 L520.1,2942.0 L521.4,2942.0 L522.8,2942.0 L524.2,2942.0 L525.6,2942.0 L526.9,2941.9 L528.3,2941.9 L529.7,2941.9 L531.1,2941.9 L532.5,2941.9 L533.8,2941.9 L535.2,2941.9 L536.6,2941.9 L538.0,2941.9 L539.3,2941.9 L540.7,2941.9 L542.1,2941.8 L543.5,2941.8 L544.8,2941.8 L546.2,2941.8 L547.6,2941.8 L549.0,2941.8 L550.4,2941.8 L551.7,2941.7 L553.1,2941.7 L554.5,2941.7 L555.9,2941.7 L557.2,2941.7 L558.6,2941.7 L560.0,2941.6 L561.4,2941.6 L562.7,2941.6 L564.1,2941.6 L565.5,2941.5 L566.9,2941.5 L568.3,2941.5 L569.6,2941.5 L571.0,2941.4 L572.4,2941.4 L573.8,2941.4 L575.1,2941.3 L576.5,2941.3 L577.9,2941.3 L579.3,2941.2 L580.6,2941.2 L582.0,2941.2 L583.4,2941.1 L584.8,2941.1 L586.2,2941.0 L587.5,2941.0 L588.9,2940.9 L590.3,2940.9 L591.7,2940.8 L593.0,2940.7 L594.4,2940.7 L595.8,2940.6 L597.2,2940.5 L598.5,2940.5 L599.9,2940.4 L601.3,2940.3 L602.7,2940.2 L604.1,2940.2 L605.4,2940.1 L606.8,2940.0 L608.2,2939.9 L609.6,2939.8 L610.9,2939.7 L612.3,2939.6 L613.7,2939.4 L615.1,2939.3 L616.4,2939.2 L617.8,2939.1 L619.2,2938.9 L620.6,2938.8 L622.0,2938.6 L623.3,2938.5 L624.7,2938.3 L626.1,2938.1 L627.5,2937.9 L628.8,2937.7 L630.2,2937.5 L631.6,2937.3 L633.0,2937.1 L634.3,2936.9 L635.7,2936.6 L637.1,2936.4 L638.5,2936.1 L639.9,2935.8 L641.2,2935.6 L642.6,2935.3 L644.0,2934.9 L645.4,2934.6 L646.7,2934.3 L648.1,2933.9 L649.5,2933.5 L650.9,2933.1 L652.2,2932.7 L653.6,2932.3 L655.0,2931.8 L656.4,2931.4 L657.8,2930.9 L659.1,2930.3 L660.5,2929.8 L661.9,2929.2 L663.3,2928.6 L664.6,2928.0 L666.0,2927.4 L667.4,2926.7 L668.8,2926.0 L670.1,2925.2 L671.5,2924.5 L672.9,2923.7 L674.3,2922.8 L675.7,2921.9 L677.0,2921.0 L678.4,2920.0 L679.8,2919.0 L681.2,2917.9 L682.5,2916.8 L683.9,2915.7 L685.3,2914.4 L686.7,2913.2 L688.1,2911.8 L689.4,2910.4 L690.8,2909.0 L692.2,2907.5 L693.6,2905.9 L694.9,2904.2 L696.3,2902.5 L697.7,2900.6 L699.1,2898.7 L700.4,2896.7 L701.8,2894.6 L703.2,2892.4 L704.6,2890.2 L706.0,2887.8 L707.3,2885.3 L708.7,2882.6 L710.1,2879.9 L711.5,2877.0 L712.8,2874.0 L714.2,2870.9 L715.6,2867.6 L717.0,2864.2 L718.3,2860.6 L719.7,2856.9 L721.1,2852.9 L722.5,2848.8 L723.9,2844.5 L725.2,2840.0 L726.6,2835.3 L728.0,2830.4 L729.4,2825.3 L730.7,2819.9 L732.1,2814.3 L733.5,2808.4 L734.9,2802.2 L736.2,2795.8 L737.6,2789.1 L739.0,2782.0 L740.4,2774.6 L741.8,2766.9 L743.1,2758.9 L744.5,2750.4 L745.9,2741.6 L747.3,2732.4 L748.6,2722.7 L750.0,2712.6 L751.4,2702.0 L752.8,2691.0 L754.1,2679.4 L755.5,2667.3 L756.9,2654.7 L758.3,2641.4 L759.7,2627.6 L761.0,2613.1 L762.4,2597.9 L763.8,2582.1 L765.2,2565.5 L766.5,2548.2 L767.9,2530.0 L769.3,2511.0 L770.7,2491.2 L772.0,2470.4 L773.4,2448.7 L774.8,2426.0 L776.2,2402.2 L777.6,2377.4 L778.9,2351.3 L780.3,2324.1 L781.7,2295.7 L783.1,2265.9 L783.7,2250.5 L784.4,2234.8 L785.1,2218.7 L785.8,2202.2 L786.5,2185.4 L787.2,2168.1 L787.9,2150.5 L788.6,2132.5 L789.3,2114.1 L789.9,2095.2 L790.6,2075.9 L791.3,2056.2 L792.0,2045.1 L792.7,2038.6 L793.4,2032.2 L794.1,2026.0 L794.8,2019.9 L795.5,2014.0 L796.1,2008.2 L796.8,2002.6 L797.5,1997.1 L798.2,1991.7 L798.9,1986.6 L799.6,1981.5 L800.3,1976.6 L801.0,1971.8 L802.3,1962.7 L803.7,1954.2 L805.1,1946.2 L806.5,1938.7 L807.8,1931.8 L809.2,1925.4 L810.6,1919.4 L812.0,1914.0 L813.4,1909.1 L814.7,1904.7 L816.1,1900.7 L817.5,1897.2 L818.9,1894.1 L820.2,1891.5 L821.6,1889.3 L823.0,1887.5 L824.4,1886.1 L825.7,1885.1 L827.1,1884.5 L828.5,1884.2 L829.9,1884.4 L831.3,1884.8 L832.6,1885.6 L834.0,1886.7 L835.4,1888.2 L836.8,1889.9 L838.1,1892.0 L839.5,1894.3 L840.9,1896.9 L842.3,1899.8 L843.6,1902.9 L845.0,1906.3 L846.4,1909.9 L847.8,1913.8 L849.2,1917.9 L850.5,1922.1 L851.9,1926.6 L853.3,1931.3 L854.7,1936.2 L856.0,1941.2 L857.4,1946.5 L858.8,1951.8 L860.2,1957.4 L861.5,1963.1 L862.9,1968.9 L864.3,1974.9 L865.7,1980.9 L867.1,1987.2 L868.4,1993.5 L869.8,1999.9 L871.2,2006.4 L872.6,2013.1 L873.9,2019.8 L875.3,2026.6 L876.7,2033.5 L878.1,2040.4 L879.4,2047.4 L880.8,2054.5 L882.2,2061.7 L883.6,2068.9 L885.0,2076.1 L886.3,2083.4 L887.7,2090.7 L889.1,2098.1 L890.5,2105.5 L891.8,2112.9 L893.2,2120.3 L894.6,2127.8 L896.0,2135.3 L897.3,2142.8 L898.7,2150.3 L900.1,2157.8 L901.5,2165.3 L902.9,2172.8 L904.2,2180.3 L905.6,2187.8 L907.0,2195.3 L908.4,2202.8 L909.7,2210.3 L911.1,2217.8 L912.5,2225.2 L913.9,2232.6 L915.2,2240.0 L916.6,2247.4 L918.0,2254.8 L919.4,2262.1 L920.8,2269.4 L922.1,2276.7 L923.5,2283.9 L924.9,2291.1 L926.3,2298.3 L927.6,2305.4 L929.0,2312.5 L930.4,2319.5 L931.8,2326.5 L933.1,2333.5 L934.5,2340.4 L935.9,2347.3 L937.3,2354.2 L938.7,2360.9 L940.0,2367.7 L941.4,2374.4 L942.8,2381.0 L944.2,2387.6 L945.5,2394.2 L946.9,2400.7 L948.3,2407.2 L949.7,2413.6 L951.0,2419.9 L952.4,2426.2 L953.8,2432.5 L955.2,2438.7 L956.6,2444.8 L957.9,2450.9 L959.3,2456.9 L960.7,2462.9 L962.1,2468.8 L963.4,2474.7 L964.8,2480.5 L966.2,2486.3 L967.6,2492.0 L968.9,2497.7 L970.3,2503.3 L971.7,2508.8 L973.1,2514.3 L974.5,2519.8 L975.8,2525.1 L977.2,2530.5 L978.6,2535.7 L980.0,2541.0 L981.3,2546.1 L982.7,2551.2 L984.1,2556.3 L985.5,2561.3 L986.8,2566.3 L988.2,2571.2 L989.6,2576.0 L991.0,2580.8 L992.4,2585.6 L993.7,2590.2 L995.1,2594.9 L996.5,2599.5 L997.9,2604.0 L999.2,2608.5 L1000.6,2612.9 L1002.0,2617.3 L1003.4,2621.6 L1004.7,2625.9 L1006.1,2630.1 L1007.5,2634.3 L1008.9,2638.5 L1010.3,2642.5 L1011.6,2646.6 L1013.0,2650.6 L1014.4,2654.5 L1015.8,2658.4 L1017.1,2662.3 L1018.5,2666.1 L1019.9,2669.8 L1021.3,2673.5 L1022.6,2677.2 L1024.0,2680.8 L1025.4,2684.4 L1026.8,2687.9 L1028.2,2691.4 L1029.5,2694.8 L1030.9,2698.2 L1032.3,2701.6 L1033.7,2704.9 L1035.0,2708.2 L1036.4,2711.4 L1037.8,2714.6 L1039.2,2717.8 L1040.5,2720.9 L1041.9,2724.0 L1043.3,2727.0 L1044.7,2730.0 L1046.1,2732.9 L1047.4,2735.9 L1048.8,2738.7 L1050.2,2741.6 L1051.6,2744.4 L1052.9,2747.2 L1054.3,2749.9 L1055.7,2752.6 L1057.1,2755.2 L1058.4,2757.9 L1059.8,2760.5 L1061.2,2763.0 L1062.6,2765.5 L1064.0,2768.0 L1065.3,2770.5 L1066.7,2772.9 L1068.1,2775.3 L1069.5,2777.7 L1070.8,2780.0 L1072.2,2782.3 L1073.6,2784.6 L1075.0,2786.8 L1076.3,2789.0 L1077.7,2791.2 L1079.1,2793.3 L1080.5,2795.5 L1081.9,2797.6 L1083.2,2799.6 L1084.6,2801.6 L1086.0,2803.7 L1087.4,2805.6 L1088.7,2807.6 L1090.1,2809.5 L1091.5,2811.4 L1092.9,2813.3 L1094.2,2815.1 L1095.6,2816.9 L1097.0,2818.7 L1098.4,2820.5 L1099.8,2822.3 L1101.1,2824.0 L1102.5,2825.7 L1103.9,2827.4 L1105.3,2829.0 L1106.6,2830.6 L1108.0,2832.2 L1109.4,2833.8 L1110.8,2835.4 L1112.1,2836.9 L1113.5,2838.5 L1114.9,2839.9 L1116.3,2841.4 L1117.7,2842.9 L1119.0,2844.3 L1120.4,2845.7 L1121.8,2847.1 L1123.2,2848.5 L1124.5,2849.9 L1125.9,2851.2 L1127.3,2852.5 L1128.7,2853.8 L1130.0,2855.1 L1131.4,2856.4 L1132.8,2857.6 L1134.2,2858.8 L1135.6,2860.0 L1136.9,2861.2 L1138.3,2862.4 L1139.7,2863.6 L1141.1,2864.7 L1142.4,2865.8 L1143.8,2867.0 L1145.2,2868.1 L1146.6,2869.1 L1147.9,2870.2 L1149.3,2871.2 L1150.7,2872.3 L1152.1,2873.3 L1153.5,2874.3 L1154.8,2875.3 L1156.2,2876.3 L1157.6,2877.2 L1159.0,2878.2 L1160.3,2879.1 L1161.7,2880.0 L1163.1,2880.9 L1164.5,2881.8 L1165.8,2882.7 L1167.2,2883.6 L1168.6,2884.5 L1170.0,2885.3 L1171.4,2886.1 L1172.7,2886.9 L1174.1,2887.8 L1175.5,2888.6 L1176.9,2889.3 L1178.2,2890.1 L1179.6,2890.9 L1181.0,2891.6 L1182.4,2892.4 L1183.7,2893.1 L1185.1,2893.8 L1186.5,2894.5 L1187.9,2895.2 L1189.3,2895.9 L1190.6,2896.6 L1192.0,2897.3 L1193.4,2897.9 L1194.8,2898.6 L1196.1,2899.2 L1197.5,2899.8 L1198.9,2900.5 L1200.3,2901.1 L1201.6,2901.7 L1203.0,2902.3 L1204.4,2902.9 L1205.8,2903.4 L1207.2,2904.0 L1208.5,2904.6 L1209.9,2905.1 L1211.3,2905.7 L1212.7,2906.2 L1214.0,2906.7 L1215.4,2907.3 L1216.8,2907.8 L1218.2,2908.3 L1219.5,2908.8 L1220.9,2909.3 L1222.3,2909.8 L1223.7,2910.2 L1225.1,2910.7 L1226.4,2911.2 L1227.8,2911.6 L1229.2,2912.1 L1230.6,2912.5 L1231.9,2913.0 L1233.3,2913.4 L1234.7,2913.8 L1236.1,2914.2 L1237.4,2914.6 L1238.8,2915.0 L1240.2,2915.4 L1241.6,2915.8 L1243.0,2916.2 L1244.3,2916.6 L1245.7,2917.0 L1247.1,2917.4 L1248.5,2917.7 L1249.8,2918.1 L1251.2,2918.4 L1252.6,2918.8 L1254.0,2919.1 L1255.3,2919.5 L1256.7,2919.8 L1258.1,2920.1 L1259.5,2920.5 L1260.9,2920.8 L1262.2,2921.1 L1263.6,2921.4 L1265.0,2921.7 L1266.4,2922.0 L1267.7,2922.3 L1269.1,2922.6 L1270.5,2922.9 L1271.9,2923.2 L1273.2,2923.5 L1274.6,2923.7 L1276.0,2924.0 L1277.4,2924.3 L1278.8,2924.5 L1280.1,2924.8 L1281.5,2925.1 L1282.9,2925.3 L1284.3,2925.6 L1285.6,2925.8 L1287.0,2926.1 L1288.4,2926.3 L1289.8,2926.5 L1291.1,2926.8 L1292.5,2927.0 L1293.9,2927.2 L1295.3,2927.4 L1296.7,2927.6 L1298.0,2927.9 L1299.4,2928.1 L1300.8,2928.3 L1302.2,2928.5 L1303.5,2928.7 L1304.9,2928.9 L1306.3,2929.1 L1307.7,2929.3 L1309.0,2929.5 L1310.4,2929.7 L1311.8,2929.8 L1313.2,2930.0 L1314.6,2930.2 L1315.9,2930.4 L1317.3,2930.5 L1318.7,2930.7 L1320.1,2930.9 L1321.4,2931.1 L1322.8,2931.2 L1324.2,2931.4 L1325.6,2931.5 L1326.9,2931.7 L1328.3,2931.9 L1329.7,2932.0 L1331.1,2932.2 L1332.5,2932.3 L1333.8,2932.4 L1335.2,2932.6 L1336.6,2932.7 L1338.0,2932.9 L1339.3,2933.0 L1340.7,2933.1 L1342.1,2933.3 L1343.5,2933.4 L1344.8,2933.5 L1346.2,2933.7 L1347.6,2933.8 L1349.0,2933.9 L1350.4,2934.0 L1351.7,2934.2 L1353.1,2934.3 L1354.5,2934.4 L1355.9,2934.5 L1357.2,2934.6 L1358.6,2934.7 L1360.0,2934.8 L1361.4,2934.9 L1362.7,2935.1 L1364.1,2935.2 L1365.5,2935.3 L1366.9,2935.4 L1368.3,2935.5 L1369.6,2935.6 L1371.0,2935.7 L1372.4,2935.8 L1373.8,2935.8 L1375.1,2935.9 L1376.5,2936.0 L1377.9,2936.1 L1379.3,2936.2 L1380.7,2936.3 L1382.0,2936.4 L1383.4,2936.5 L1384.8,2936.6 L1386.2,2936.6 L1387.5,2936.7 L1388.9,2936.8 L1390.3,2936.9 L1391.7,2937.0 L1393.0,2937.0 L1394.4,2937.1 L1395.8,2937.2 L1397.2,2937.3 L1398.6,2937.3 L1399.9,2937.4 L1401.3,2937.5 L1402.7,2937.5 L1404.1,2937.6 L1405.4,2937.7 L1406.8,2937.7 L1408.2,2937.8 L1409.6,2937.9 L1410.9,2937.9 L1412.3,2938.0 L1413.7,2938.1 L1415.1,2938.1 L1416.5,2938.2 L1417.8,2938.2 L1419.2,2938.3 L1420.6,2938.3 L1422.0,2938.4 L1423.3,2938.5 L1424.7,2938.5 L1426.1,2938.6 L1427.5,2938.6 L1428.8,2938.7 L1430.2,2938.7 L1431.6,2938.8 L1433.0,2938.8 L1434.4,2938.9 L1435.7,2938.9 L1437.1,2939.0 L1438.5,2939.0 L1439.9,2939.1 L1441.2,2939.1 L1442.6,2939.1 L1444.0,2939.2 L1445.4,2939.2 L1446.7,2939.3 L1448.1,2939.3 L1449.5,2939.4 L1450.9,2939.4 L1452.3,2939.4 L1453.6,2939.5 L1455.0,2939.5 L1456.4,2939.6 L1457.8,2939.6 L1459.1,2939.6 L1460.5,2939.7 L1461.9,2939.7 L1463.3,2939.7 L1464.6,2939.8 L1466.0,2939.8 L1467.4,2939.8 L1468.8,2939.9 L1470.2,2939.9 L1471.5,2939.9 L1472.9,2940.0 L1474.3,2940.0 L1475.7,2940.0 L1477.0,2940.1 L1478.4,2940.1 L1479.8,2940.1 L1481.2,2940.2 L1482.5,2940.2 L1483.9,2940.2 L1485.3,2940.2 L1486.7,2940.3 L1488.1,2940.3 L1489.4,2940.3 L1490.8,2940.4 L1492.2,2940.4 L1493.6,2940.4 L1494.9,2940.4 L1496.3,2940.5 L1497.7,2940.5 L1499.1,2940.5 L1500.4,2940.5 L1501.8,2940.5 L1503.2,2940.6 L1504.6,2940.6 L1506.0,2940.6 L1507.3,2940.6 L1508.7,2940.7 L1510.1,2940.7 L1511.5,2940.7 L1512.8,2940.7 L1514.2,2940.7 L1515.6,2940.8 L1517.0,2940.8 L1518.3,2940.8 L1519.7,2940.8 L1521.1,2940.8 L1522.5,2940.9 L1523.9,2940.9 L1525.2,2940.9 L1526.6,2940.9 L1528.0,2940.9 L1529.4,2941.0 L1530.7,2941.0 L1532.1,2941.0 L1533.5,2941.0 L1534.9,2941.0 L1536.2,2941.0 L1537.6,2941.1 L1539.0,2941.1 L1540.4,2941.1 L1541.8,2941.1 L1543.1,2941.1 L1544.5,2941.1 L1545.9,2941.1 L1547.3,2941.2 L1548.6,2941.2 L1550.0,2941.2 L1551.4,2941.2 L1552.8,2941.2 L1554.1,2941.2 L1555.5,2941.2 L1556.9,2941.2 L1558.3,2941.3 L1559.7,2941.3 L1561.0,2941.3 L1562.4,2941.3 L1563.8,2941.3 L1565.2,2941.3 L1566.5,2941.3 L1567.9,2941.3 L1569.3,2941.4 L1570.7,2941.4 L1572.0,2941.4 L1573.4,2941.4 L1574.8,2941.4 L1576.2,2941.4 L1577.6,2941.4 L1578.9,2941.4 L1580.3,2941.4 L1581.7,2941.5 L1583.1,2941.5 L1584.4,2941.5 L1585.8,2941.5 L1587.2,2941.5 L1588.6,2941.5 L1589.9,2941.5 L1591.3,2941.5 L1592.7,2941.5 L1594.1,2941.5 L1595.5,2941.5 L1596.8,2941.5 L1598.2,2941.6 L1599.6,2941.6 L1601.0,2941.6 L1602.3,2941.6 L1603.7,2941.6 L1605.1,2941.6 L1606.5,2941.6 L1607.8,2941.6 L1609.2,2941.6 L1610.6,2941.6 L1612.0,2941.6 L1613.4,2941.6 L1614.7,2941.6 L1616.1,2941.7 L1617.5,2941.7 L1618.9,2941.7 L1620.2,2941.7 L1621.6,2941.7 L1623.0,2941.7 L1624.4,2941.7 L1625.7,2941.7 L1627.1,2941.7 L1628.5,2941.7 L1629.9,2941.7 L1631.3,2941.7 L1632.6,2941.7 L1634.0,2941.7 L1635.4,2941.7 L1636.8,2941.7 L1638.1,2941.7 L1639.5,2941.8 L1640.9,2941.8 L1642.3,2941.8 L1643.6,2941.8 L1645.0,2941.8 L1646.4,2941.8 L1647.8,2941.8 L1649.2,2941.8 L1650.5,2941.8 L1651.9,2941.8 L1653.3,2941.8 L1654.7,2941.8 L1656.0,2941.8 L1657.4,2941.8 L1658.8,2941.8 L1660.2,2941.8 L1661.5,2941.8 L1662.9,2941.8 L1664.3,2941.8 L1665.7,2941.8 L1667.1,2941.8 L1668.4,2941.8 L1669.8,2941.9 L1671.2,2941.9 L1672.6,2941.9 L1673.9,2941.9 L1675.3,2941.9 L1676.7,2941.9 L1678.1,2941.9 L1679.4,2941.9 L1680.8,2941.9 L1682.2,2941.9 L1683.6,2941.9 L1685.0,2941.9 L1686.3,2941.9 L1687.7,2941.9 L1689.1,2941.9 L1690.5,2941.9 L1691.8,2941.9 L1693.2,2941.9 L1694.6,2941.9 L1696.0,2941.9 L1697.3,2941.9 L1698.7,2941.9 L1700.1,2941.9 L1701.5,2941.9 L1702.9,2941.9 L1704.2,2941.9 L1705.6,2941.9 L1707.0,2941.9 L1708.4,2941.9 L1709.0,2941.9" stroke-width="8.1" stroke-dasharray="20.48 34.28"/>
<path d="M332.8,2934.1 L334.2,2934.0 L335.6,2933.8 L336.9,2933.7 L338.3,2933.6 L339.7,2933.5 L341.1,2933.3 L342.4,2933.2 L343.8,2933.1 L345.2,2932.9 L346.6,2932.8 L347.9,2932.6 L349.3,2932.5 L350.7,2932.4 L352.1,2932.2 L353.5,2932.1 L354.8,2931.9 L356.2,2931.8 L357.6,2931.6 L359.0,2931.4 L360.3,2931.3 L361.7,2931.1 L363.1,2930.9 L364.5,2930.8 L365.8,2930.6 L367.2,2930.4 L368.6,2930.3 L370.0,2930.1 L371.4,2929.9 L372.7,2929.7 L374.1,2929.5 L375.5,2929.3 L376.9,2929.1 L378.2,2928.9 L379.6,2928.7 L381.0,2928.5 L382.4,2928.3 L383.7,2928.1 L385.1,2927.9 L386.5,2927.7 L387.9,2927.5 L389.3,2927.3 L390.6,2927.0 L392.0,2926.8 L393.4,2926.6 L394.8,2926.3 L396.1,2926.1 L397.5,2925.9 L398.9,2925.6 L400.3,2925.4 L401.6,2925.1 L403.0,2924.9 L404.4,2924.6 L405.8,2924.3 L407.2,2924.1 L408.5,2923.8 L409.9,2923.5 L411.3,2923.2 L412.7,2923.0 L414.0,2922.7 L415.4,2922.4 L416.8,2922.1 L418.2,2921.8 L419.5,2921.5 L420.9,2921.1 L422.3,2920.8 L423.7,2920.5 L425.1,2920.2 L426.4,2919.9 L427.8,2919.5 L429.2,2919.2 L430.6,2918.8 L431.9,2918.5 L433.3,2918.1 L434.7,2917.8 L436.1,2917.4 L437.4,2917.0 L438.8,2916.6 L440.2,2916.2 L441.6,2915.9 L443.0,2915.5 L444.3,2915.1 L445.7,2914.6 L447.1,2914.2 L448.5,2913.8 L449.8,2913.4 L451.2,2913.0 L452.6,2912.5 L454.0,2912.1 L455.3,2911.6 L456.7,2911.1 L458.1,2910.7 L459.5,2910.2 L460.9,2909.7 L462.2,2909.2 L463.6,2908.7 L465.0,2908.2 L466.4,2907.7 L467.7,2907.2 L469.1,2906.7 L470.5,2906.1 L471.9,2905.6 L473.2,2905.0 L474.6,2904.5 L476.0,2903.9 L477.4,2903.3 L478.8,2902.7 L480.1,2902.2 L481.5,2901.5 L482.9,2900.9 L484.3,2900.3 L485.6,2899.7 L487.0,2899.0 L488.4,2898.4 L489.8,2897.7 L491.1,2897.1 L492.5,2896.4 L493.9,2895.7 L495.3,2895.0 L496.7,2894.3 L498.0,2893.5 L499.4,2892.8 L500.8,2892.1 L502.2,2891.3 L503.5,2890.5 L504.9,2889.8 L506.3,2889.0 L507.7,2888.2 L509.0,2887.4 L510.4,2886.5 L511.8,2885.7 L513.2,2884.8 L514.6,2884.0 L515.9,2883.1 L517.3,2882.2 L518.7,2881.3 L520.1,2880.4 L521.4,2879.4 L522.8,2878.5 L524.2,2877.5 L525.6,2876.5 L526.9,2875.6 L528.3,2874.6 L529.7,2873.5 L531.1,2872.5 L532.5,2871.4 L533.8,2870.4 L535.2,2869.3 L536.6,2868.2 L538.0,2867.1 L539.3,2865.9 L540.7,2864.8 L542.1,2863.6 L543.5,2862.4 L544.8,2861.2 L546.2,2860.0 L547.6,2858.8 L549.0,2857.5 L550.4,2856.2 L551.7,2854.9 L553.1,2853.6 L554.5,2852.3 L555.9,2850.9 L557.2,2849.5 L558.6,2848.1 L560.0,2846.7 L561.4,2845.3 L562.7,2843.8 L564.1,2842.3 L565.5,2840.8 L566.9,2839.3 L568.3,2837.7 L569.6,2836.1 L571.0,2834.5 L572.4,2832.9 L573.8,2831.3 L575.1,2829.6 L576.5,2827.9 L577.9,2826.2 L579.3,2824.4 L580.6,2822.6 L582.0,2820.8 L583.4,2819.0 L584.8,2817.1 L586.2,2815.2 L587.5,2813.3 L588.9,2811.4 L590.3,2809.4 L591.7,2807.4 L593.0,2805.3 L594.4,2803.3 L595.8,2801.2 L597.2,2799.0 L598.5,2796.9 L599.9,2794.7 L601.3,2792.5 L602.7,2790.2 L604.1,2787.9 L605.4,2785.6 L606.8,2783.2 L608.2,2780.8 L609.6,2778.4 L610.9,2775.9 L612.3,2773.4 L613.7,2770.8 L615.1,2768.2 L616.4,2765.6 L617.8,2762.9 L619.2,2760.2 L620.6,2757.5 L622.0,2754.7 L623.3,2751.8 L624.7,2749.0 L626.1,2746.0 L627.5,2743.1 L628.8,2740.1 L630.2,2737.0 L631.6,2733.9 L633.0,2730.8 L634.3,2727.6 L635.7,2724.3 L637.1,2721.0 L638.5,2717.7 L639.9,2714.3 L641.2,2710.9 L642.6,2707.4 L644.0,2703.8 L645.4,2700.2 L646.7,2696.5 L648.1,2692.8 L649.5,2689.1 L650.9,2685.2 L652.2,2681.4 L653.6,2677.4 L655.0,2673.4 L656.4,2669.3 L657.8,2665.2 L659.1,2661.0 L660.5,2656.8 L661.9,2652.5 L663.3,2648.1 L664.6,2643.7 L666.0,2639.1 L667.4,2634.6 L668.8,2629.9 L670.1,2625.2 L671.5,2620.4 L672.9,2615.5 L674.3,2610.6 L675.7,2605.6 L677.0,2600.5 L678.4,2595.3 L679.8,2590.1 L681.2,2584.8 L682.5,2579.4 L683.9,2573.9 L685.3,2568.3 L686.7,2562.7 L688.1,2556.9 L689.4,2551.1 L690.8,2545.2 L692.2,2539.2 L693.6,2533.1 L694.9,2526.9 L696.3,2520.6 L697.7,2514.2 L699.1,2507.8 L700.4,2501.2 L701.8,2494.5 L703.2,2487.8 L704.6,2480.9 L706.0,2473.9 L707.3,2466.9 L708.7,2459.7 L710.1,2452.4 L711.5,2445.0 L712.8,2437.5 L714.2,2429.8 L715.6,2422.1 L717.0,2414.2 L718.3,2406.2 L719.7,2398.1 L721.1,2389.9 L722.5,2381.6 L723.9,2373.1 L725.2,2364.5 L726.6,2355.7 L728.0,2346.9 L729.4,2337.9 L730.7,2328.7 L732.1,2319.5 L733.5,2310.0 L734.9,2300.5 L736.2,2290.8 L737.6,2280.9 L739.0,2270.9 L740.4,2260.8 L741.8,2250.5 L743.1,2240.0 L744.5,2229.4 L745.9,2218.6 L747.3,2207.7 L748.6,2196.6 L750.0,2185.3 L751.4,2173.9 L752.8,2162.3 L754.1,2150.5 L755.5,2138.5 L756.9,2126.4 L758.3,2114.0 L759.7,2101.5 L761.0,2088.8 L762.4,2075.9 L763.8,2062.8 L765.2,2049.5 L766.5,2036.0 L767.9,2022.3 L769.3,2008.4 L770.7,1994.3 L772.0,1979.9 L773.4,1965.4 L774.8,1950.6 L776.2,1935.6 L777.6,1920.4 L778.9,1905.0 L780.3,1889.3 L781.7,1873.4 L783.1,1857.2 L783.7,1849.0 L784.4,1840.8 L785.1,1832.5 L785.8,1824.1 L786.5,1815.7 L787.2,1807.2 L787.9,1798.7 L788.6,1790.1 L789.3,1781.4 L789.9,1772.7 L790.6,1763.8 L791.3,1755.0 L792.0,1757.9 L792.7,1766.8 L793.4,1775.6 L794.1,1784.3 L794.8,1793.0 L795.5,1801.5 L796.1,1810.1 L796.8,1818.5 L797.5,1826.9 L798.2,1835.3 L798.9,1843.5 L799.6,1851.8 L800.3,1859.9 L801.0,1868.0 L802.3,1884.0 L803.7,1899.8 L805.1,1915.3 L806.5,1930.6 L807.8,1945.6 L809.2,1960.5 L810.6,1975.1 L812.0,1989.5 L813.4,2003.7 L814.7,2017.7 L816.1,2031.4 L817.5,2045.0 L818.9,2058.4 L820.2,2071.5 L821.6,2084.5 L823.0,2097.3 L824.4,2109.9 L825.7,2122.3 L827.1,2134.5 L828.5,2146.5 L829.9,2158.4 L831.3,2170.0 L832.6,2181.5 L834.0,2192.9 L835.4,2204.0 L836.8,2215.0 L838.1,2225.8 L839.5,2236.5 L840.9,2247.0 L842.3,2257.4 L843.6,2267.6 L845.0,2277.6 L846.4,2287.5 L847.8,2297.3 L849.2,2306.9 L850.5,2316.3 L851.9,2325.7 L853.3,2334.8 L854.7,2343.9 L856.0,2352.8 L857.4,2361.6 L858.8,2370.2 L860.2,2378.7 L861.5,2387.1 L862.9,2395.4 L864.3,2403.5 L865.7,2411.6 L867.1,2419.5 L868.4,2427.3 L869.8,2434.9 L871.2,2442.5 L872.6,2449.9 L873.9,2457.2 L875.3,2464.5 L876.7,2471.6 L878.1,2478.6 L879.4,2485.5 L880.8,2492.3 L882.2,2499.0 L883.6,2505.6 L885.0,2512.1 L886.3,2518.5 L887.7,2524.8 L889.1,2531.0 L890.5,2537.2 L891.8,2543.2 L893.2,2549.1 L894.6,2555.0 L896.0,2560.7 L897.3,2566.4 L898.7,2572.0 L900.1,2577.5 L901.5,2583.0 L902.9,2588.3 L904.2,2593.6 L905.6,2598.8 L907.0,2603.9 L908.4,2608.9 L909.7,2613.9 L911.1,2618.8 L912.5,2623.6 L913.9,2628.3 L915.2,2633.0 L916.6,2637.6 L918.0,2642.2 L919.4,2646.6 L920.8,2651.0 L922.1,2655.4 L923.5,2659.6 L924.9,2663.8 L926.3,2668.0 L927.6,2672.1 L929.0,2676.1 L930.4,2680.0 L931.8,2684.0 L933.1,2687.8 L934.5,2691.6 L935.9,2695.3 L937.3,2699.0 L938.7,2702.6 L940.0,2706.2 L941.4,2709.7 L942.8,2713.2 L944.2,2716.6 L945.5,2719.9 L946.9,2723.2 L948.3,2726.5 L949.7,2729.7 L951.0,2732.9 L952.4,2736.0 L953.8,2739.1 L955.2,2742.1 L956.6,2745.1 L957.9,2748.0 L959.3,2750.9 L960.7,2753.7 L962.1,2756.5 L963.4,2759.3 L964.8,2762.0 L966.2,2764.7 L967.6,2767.4 L968.9,2770.0 L970.3,2772.5 L971.7,2775.0 L973.1,2777.5 L974.5,2780.0 L975.8,2782.4 L977.2,2784.8 L978.6,2787.1 L980.0,2789.4 L981.3,2791.7 L982.7,2793.9 L984.1,2796.2 L985.5,2798.3 L986.8,2800.5 L988.2,2802.6 L989.6,2804.7 L991.0,2806.7 L992.4,2808.7 L993.7,2810.7 L995.1,2812.7 L996.5,2814.6 L997.9,2816.5 L999.2,2818.4 L1000.6,2820.2 L1002.0,2822.0 L1003.4,2823.8 L1004.7,2825.6 L1006.1,2827.3 L1007.5,2829.0 L1008.9,2830.7 L1010.3,2832.4 L1011.6,2834.0 L1013.0,2835.6 L1014.4,2837.2 L1015.8,2838.8 L1017.1,2840.3 L1018.5,2841.8 L1019.9,2843.3 L1021.3,2844.8 L1022.6,2846.2 L1024.0,2847.7 L1025.4,2849.1 L1026.8,2850.4 L1028.2,2851.8 L1029.5,2853.2 L1030.9,2854.5 L1032.3,2855.8 L1033.7,2857.1 L1035.0,2858.3 L1036.4,2859.6 L1037.8,2860.8 L1039.2,2862.0 L1040.5,2863.2 L1041.9,2864.4 L1043.3,2865.6 L1044.7,2866.7 L1046.1,2867.8 L1047.4,2868.9 L1048.8,2870.0 L1050.2,2871.1 L1051.6,2872.1 L1052.9,2873.2 L1054.3,2874.2 L1055.7,2875.2 L1057.1,2876.2 L1058.4,2877.2 L1059.8,2878.2 L1061.2,2879.1 L1062.6,2880.1 L1064.0,2881.0 L1065.3,2881.9 L1066.7,2882.8 L1068.1,2883.7 L1069.5,2884.5 L1070.8,2885.4 L1072.2,2886.2 L1073.6,2887.1 L1075.0,2887.9 L1076.3,2888.7 L1077.7,2889.5 L1079.1,2890.3 L1080.5,2891.1 L1081.9,2891.8 L1083.2,2892.6 L1084.6,2893.3 L1086.0,2894.0 L1087.4,2894.7 L1088.7,2895.4 L1090.1,2896.1 L1091.5,2896.8 L1092.9,2897.5 L1094.2,2898.2 L1095.6,2898.8 L1097.0,2899.5 L1098.4,2900.1 L1099.8,2900.7 L1101.1,2901.3 L1102.5,2902.0 L1103.9,2902.5 L1105.3,2903.1 L1106.6,2903.7 L1108.0,2904.3 L1109.4,2904.9 L1110.8,2905.4 L1112.1,2906.0 L1113.5,2906.5 L1114.9,2907.0 L1116.3,2907.5 L1117.7,2908.1 L1119.0,2908.6 L1120.4,2909.1 L1121.8,2909.6 L1123.2,2910.0 L1124.5,2910.5 L1125.9,2911.0 L1127.3,2911.5 L1128.7,2911.9 L1130.0,2912.4 L1131.4,2912.8 L1132.8,2913.2 L1134.2,2913.7 L1135.6,2914.1 L1136.9,2914.5 L1138.3,2914.9 L1139.7,2915.3 L1141.1,2915.7 L1142.4,2916.1 L1143.8,2916.5 L1145.2,2916.9 L1146.6,2917.3 L1147.9,2917.6 L1149.3,2918.0 L1150.7,2918.4 L1152.1,2918.7 L1153.5,2919.1 L1154.8,2919.4 L1156.2,2919.7 L1157.6,2920.1 L1159.0,2920.4 L1160.3,2920.7 L1161.7,2921.0 L1163.1,2921.4 L1164.5,2921.7 L1165.8,2922.0 L1167.2,2922.3 L1168.6,2922.6 L1170.0,2922.9 L1171.4,2923.1 L1172.7,2923.4 L1174.1,2923.7 L1175.5,2924.0 L1176.9,2924.2 L1178.2,2924.5 L1179.6,2924.8 L1181.0,2925.0 L1182.4,2925.3 L1183.7,2925.5 L1185.1,2925.8 L1186.5,2926.0 L1187.9,2926.3 L1189.3,2926.5 L1190.6,2926.7 L1192.0,2927.0 L1193.4,2927.2 L1194.8,2927.4 L1196.1,2927.6 L1197.5,2927.8 L1198.9,2928.1 L1200.3,2928.3 L1201.6,2928.5 L1203.0,2928.7 L1204.4,2928.9 L1205.8,2929.1 L1207.2,2929.3 L1208.5,2929.5 L1209.9,2929.6 L1211.3,2929.8 L1212.7,2930.0 L1214.0,2930.2 L1215.4,2930.4 L1216.8,2930.5 L1218.2,2930.7 L1219.5,2930.9 L1220.9,2931.1 L1222.3,2931.2 L1223.7,2931.4 L1225.1,2931.5 L1226.4,2931.7 L1227.8,2931.9 L1229.2,2932.0 L1230.6,2932.2 L1231.9,2932.3 L1233.3,2932.5 L1234.7,2932.6 L1236.1,2932.7 L1237.4,2932.9 L1238.8,2933.0 L1240.2,2933.1 L1241.6,2933.3 L1243.0,2933.4 L1244.3,2933.5 L1245.7,2933.7 L1247.1,2933.8 L1248.5,2933.9 L1249.8,2934.0 L1251.2,2934.2 L1252.6,2934.3 L1254.0,2934.4 L1255.3,2934.5 L1256.7,2934.6 L1258.1,2934.7 L1259.5,2934.8 L1260.9,2935.0 L1262.2,2935.1 L1263.6,2935.2 L1265.0,2935.3 L1266.4,2935.4 L1267.7,2935.5 L1269.1,2935.6 L1270.5,2935.7 L1271.9,2935.8 L1273.2,2935.9 L1274.6,2935.9 L1276.0,2936.0 L1277.4,2936.1 L1278.8,2936.2 L1280.1,2936.3 L1281.5,2936.4 L1282.9,2936.5 L1284.3,2936.6 L1285.6,2936.6 L1287.0,2936.7 L1288.4,2936.8 L1289.8,2936.9 L1291.1,2937.0 L1292.5,2937.0 L1293.9,2937.1 L1295.3,2937.2 L1296.7,2937.3 L1298.0,2937.3 L1299.4,2937.4 L1300.8,2937.5 L1302.2,2937.5 L1303.5,2937.6 L1304.9,2937.7 L1306.3,2937.7 L1307.7,2937.8 L1309.0,2937.9 L1310.4,2937.9 L1311.8,2938.0 L1313.2,2938.1 L1314.6,2938.1 L1315.9,2938.2 L1317.3,2938.2 L1318.7,2938.3 L1320.1,2938.4 L1321.4,2938.4 L1322.8,2938.5 L1324.2,2938.5 L1325.6,2938.6 L1326.9,2938.6 L1328.3,2938.7 L1329.7,2938.7 L1331.1,2938.8 L1332.5,2938.8 L1333.8,2938.9 L1335.2,2938.9 L1336.6,2939.0 L1338.0,2939.0 L1339.3,2939.1 L1340.7,2939.1 L1342.1,2939.2 L1343.5,2939.2 L1344.8,2939.2 L1346.2,2939.3 L1347.6,2939.3 L1349.0,2939.4 L1350.4,2939.4 L1351.7,2939.4 L1353.1,2939.5 L1354.5,2939.5 L1355.9,2939.6 L1357.2,2939.6 L1358.6,2939.6 L1360.0,2939.7 L1361.4,2939.7 L1362.7,2939.7 L1364.1,2939.8 L1365.5,2939.8 L1366.9,2939.8 L1368.3,2939.9 L1369.6,2939.9 L1371.0,2939.9 L1372.4,2940.0 L1373.8,2940.0 L1375.1,2940.0 L1376.5,2940.1 L1377.9,2940.1 L1379.3,2940.1 L1380.7,2940.2 L1382.0,2940.2 L1383.4,2940.2 L1384.8,2940.2 L1386.2,2940.3 L1387.5,2940.3 L1388.9,2940.3 L1390.3,2940.4 L1391.7,2940.4 L1393.0,2940.4 L1394.4,2940.4 L1395.8,2940.5 L1397.2,2940.5 L1398.6,2940.5 L1399.9,2940.5 L1401.3,2940.6 L1402.7,2940.6 L1404.1,2940.6 L1405.4,2940.6 L1406.8,2940.6 L1408.2,2940.7 L1409.6,2940.7 L1410.9,2940.7 L1412.3,2940.7 L1413.7,2940.7 L1415.1,2940.8 L1416.5,2940.8 L1417.8,2940.8 L1419.2,2940.8 L1420.6,2940.8 L1422.0,2940.9 L1423.3,2940.9 L1424.7,2940.9 L1426.1,2940.9 L1427.5,2940.9 L1428.8,2941.0 L1430.2,2941.0 L1431.6,2941.0 L1433.0,2941.0 L1434.4,2941.0 L1435.7,2941.0 L1437.1,2941.1 L1438.5,2941.1 L1439.9,2941.1 L1441.2,2941.1 L1442.6,2941.1 L1444.0,2941.1 L1445.4,2941.1 L1446.7,2941.2 L1448.1,2941.2 L1449.5,2941.2 L1450.9,2941.2 L1452.3,2941.2 L1453.6,2941.2 L1455.0,2941.2 L1456.4,2941.3 L1457.8,2941.3 L1459.1,2941.3 L1460.5,2941.3 L1461.9,2941.3 L1463.3,2941.3 L1464.6,2941.3 L1466.0,2941.3 L1467.4,2941.3 L1468.8,2941.4 L1470.2,2941.4 L1471.5,2941.4 L1472.9,2941.4 L1474.3,2941.4 L1475.7,2941.4 L1477.0,2941.4 L1478.4,2941.4 L1479.8,2941.4 L1481.2,2941.5 L1482.5,2941.5 L1483.9,2941.5 L1485.3,2941.5 L1486.7,2941.5 L1488.1,2941.5 L1489.4,2941.5 L1490.8,2941.5 L1492.2,2941.5 L1493.6,2941.5 L1494.9,2941.5 L1496.3,2941.6 L1497.7,2941.6 L1499.1,2941.6 L1500.4,2941.6 L1501.8,2941.6 L1503.2,2941.6 L1504.6,2941.6 L1506.0,2941.6 L1507.3,2941.6 L1508.7,2941.6 L1510.1,2941.6 L1511.5,2941.6 L1512.8,2941.6 L1514.2,2941.6 L1515.6,2941.7 L1517.0,2941.7 L1518.3,2941.7 L1519.7,2941.7 L1521.1,2941.7 L1522.5,2941.7 L1523.9,2941.7 L1525.2,2941.7 L1526.6,2941.7 L1528.0,2941.7 L1529.4,2941.7 L1530.7,2941.7 L1532.1,2941.7 L1533.5,2941.7 L1534.9,2941.7 L1536.2,2941.7 L1537.6,2941.7 L1539.0,2941.8 L1540.4,2941.8 L1541.8,2941.8 L1543.1,2941.8 L1544.5,2941.8 L1545.9,2941.8 L1547.3,2941.8 L1548.6,2941.8 L1550.0,2941.8 L1551.4,2941.8 L1552.8,2941.8 L1554.1,2941.8 L1555.5,2941.8 L1556.9,2941.8 L1558.3,2941.8 L1559.7,2941.8 L1561.0,2941.8 L1562.4,2941.8 L1563.8,2941.8 L1565.2,2941.8 L1566.5,2941.8 L1567.9,2941.8 L1569.3,2941.9 L1570.7,2941.9 L1572.0,2941.9 L1573.4,2941.9 L1574.8,2941.9 L1576.2,2941.9 L1577.6,2941.9 L1578.9,2941.9 L1580.3,2941.9 L1581.7,2941.9 L1583.1,2941.9 L1584.4,2941.9 L1585.8,2941.9 L1587.2,2941.9 L1588.6,2941.9 L1589.9,2941.9 L1591.3,2941.9 L1592.7,2941.9 L1594.1,2941.9 L1595.5,2941.9 L1596.8,2941.9 L1598.2,2941.9 L1599.6,2941.9 L1601.0,2941.9 L1602.3,2941.9 L1603.7,2941.9 L1605.1,2941.9 L1606.5,2941.9 L1607.8,2941.9 L1609.2,2941.9 L1610.6,2941.9 L1612.0,2941.9 L1613.4,2941.9 L1614.7,2941.9 L1616.1,2942.0 L1617.5,2942.0 L1618.9,2942.0 L1620.2,2942.0 L1621.6,2942.0 L1623.0,2942.0 L1624.4,2942.0 L1625.7,2942.0 L1627.1,2942.0 L1628.5,2942.0 L1629.9,2942.0 L1631.3,2942.0 L1632.6,2942.0 L1634.0,2942.0 L1635.4,2942.0 L1636.8,2942.0 L1638.1,2942.0 L1639.5,2942.0 L1640.9,2942.0 L1642.3,2942.0 L1643.6,2942.0 L1645.0,2942.0 L1646.4,2942.0 L1647.8,2942.0 L1649.2,2942.0 L1650.5,2942.0 L1651.9,2942.0 L1653.3,2942.0 L1654.7,2942.0 L1656.0,2942.0 L1657.4,2942.0 L1658.8,2942.0 L1660.2,2942.0 L1661.5,2942.0 L1662.9,2942.0 L1664.3,2942.0 L1665.7,2942.0 L1667.1,2942.0 L1668.4,2942.0 L1669.8,2942.0 L1671.2,2942.0 L1672.6,2942.0 L1673.9,2942.0 L1675.3,2942.0 L1676.7,2942.0 L1678.1,2942.0 L1679.4,2942.0 L1680.8,2942.0 L1682.2,2942.0 L1683.6,2942.0 L1685.0,2942.0 L1686.3,2942.0 L1687.7,2942.0 L1689.1,2942.0 L1690.5,2942.0 L1691.8,2942.0 L1693.2,2942.0 L1694.6,2942.0 L1696.0,2942.0 L1697.3,2942.0 L1698.7,2942.0 L1700.1,2942.0 L1701.5,2942.0 L1702.9,2942.0 L1704.2,2942.0 L1705.6,2942.0 L1707.0,2942.0 L1708.4,2942.0 L1709.0,2942.0" stroke-width="7.8" stroke-dasharray="0.01 27.37"/>
<rect x="1158.5" y="1752.0" width="534.1" height="263.1" stroke-width="4.2" fill="#fff"/>
<path d="M1208.5,1817.4 L1306.5,1817.4" stroke-width="8.1" />
<path d="M1208.5,1883.5 L1306.5,1883.5" stroke-width="8.1" stroke-dasharray="20.48 34.28"/>
<path d="M1208.5,1949.6 L1306.5,1949.6" stroke-width="7.8" stroke-dasharray="0.01 27.37"/>
</g>
<rect x="278.2" y="1704.4" width="1485.8" height="1284.8" stroke-width="4.1"/>
<path d="M276.2,1704.50 H1766.0 M276.2,2989.35 H1766.0" stroke-width="4.8" stroke-linecap="butt"/>
<path d="M332.8,2989.2 v33.7 M791.5,2989.2 v33.7 M1250.3,2989.2 v33.7 M1709.0,2989.2 v33.7 M278.2,2942.1 h-33.4 M278.2,2704.1 h-33.4 M278.2,2466.1 h-33.4 M278.2,2228.0 h-33.4 M278.2,1990.0 h-33.4 M278.2,1752.0 h-33.4" stroke-width="4.2"/>
</g>
<g text-anchor="middle">
<text transform="translate(332.8,3107.4) scale(1,1.015)">−5</text>
<text transform="translate(791.5,3107.4) scale(1,1.015)">0</text>
<text transform="translate(1250.3,3107.4) scale(1,1.015)">5</text>
<text transform="translate(1709.0,3107.4) scale(1,1.015)">10</text>
<text transform="translate(198.7,2942.1) rotate(-90) scale(0.966,1.01)">0.0</text>
<text transform="translate(198.7,2704.1) rotate(-90) scale(0.966,1.01)">0.1</text>
<text transform="translate(198.7,2466.1) rotate(-90) scale(0.966,1.01)">0.2</text>
<text transform="translate(198.7,2228.0) rotate(-90) scale(0.966,1.01)">0.3</text>
<text transform="translate(198.7,1990.0) rotate(-90) scale(0.966,1.01)">0.4</text>
<text transform="translate(198.7,1752.0) rotate(-90) scale(0.966,1.01)">0.5</text>
<text transform="translate(68,2346.3) rotate(-90) scale(0.99,1.02)">Density</text>
<text transform="translate(1020.9,3238.6) scale(0.92,0.96)">y</text>
</g>
<g clip-path="url(#c1)">
<text transform="translate(1354.8,1832.1) scale(1,1.030)">EML(0,1,0.7)</text>
<text transform="translate(1354.8,1898.2) scale(1,1.030)">ML(0,1,3)</text>
<text transform="translate(1354.8,1964.3) scale(1,1.030)">L(0,1)</text>
</g>
</svg></body></html>
